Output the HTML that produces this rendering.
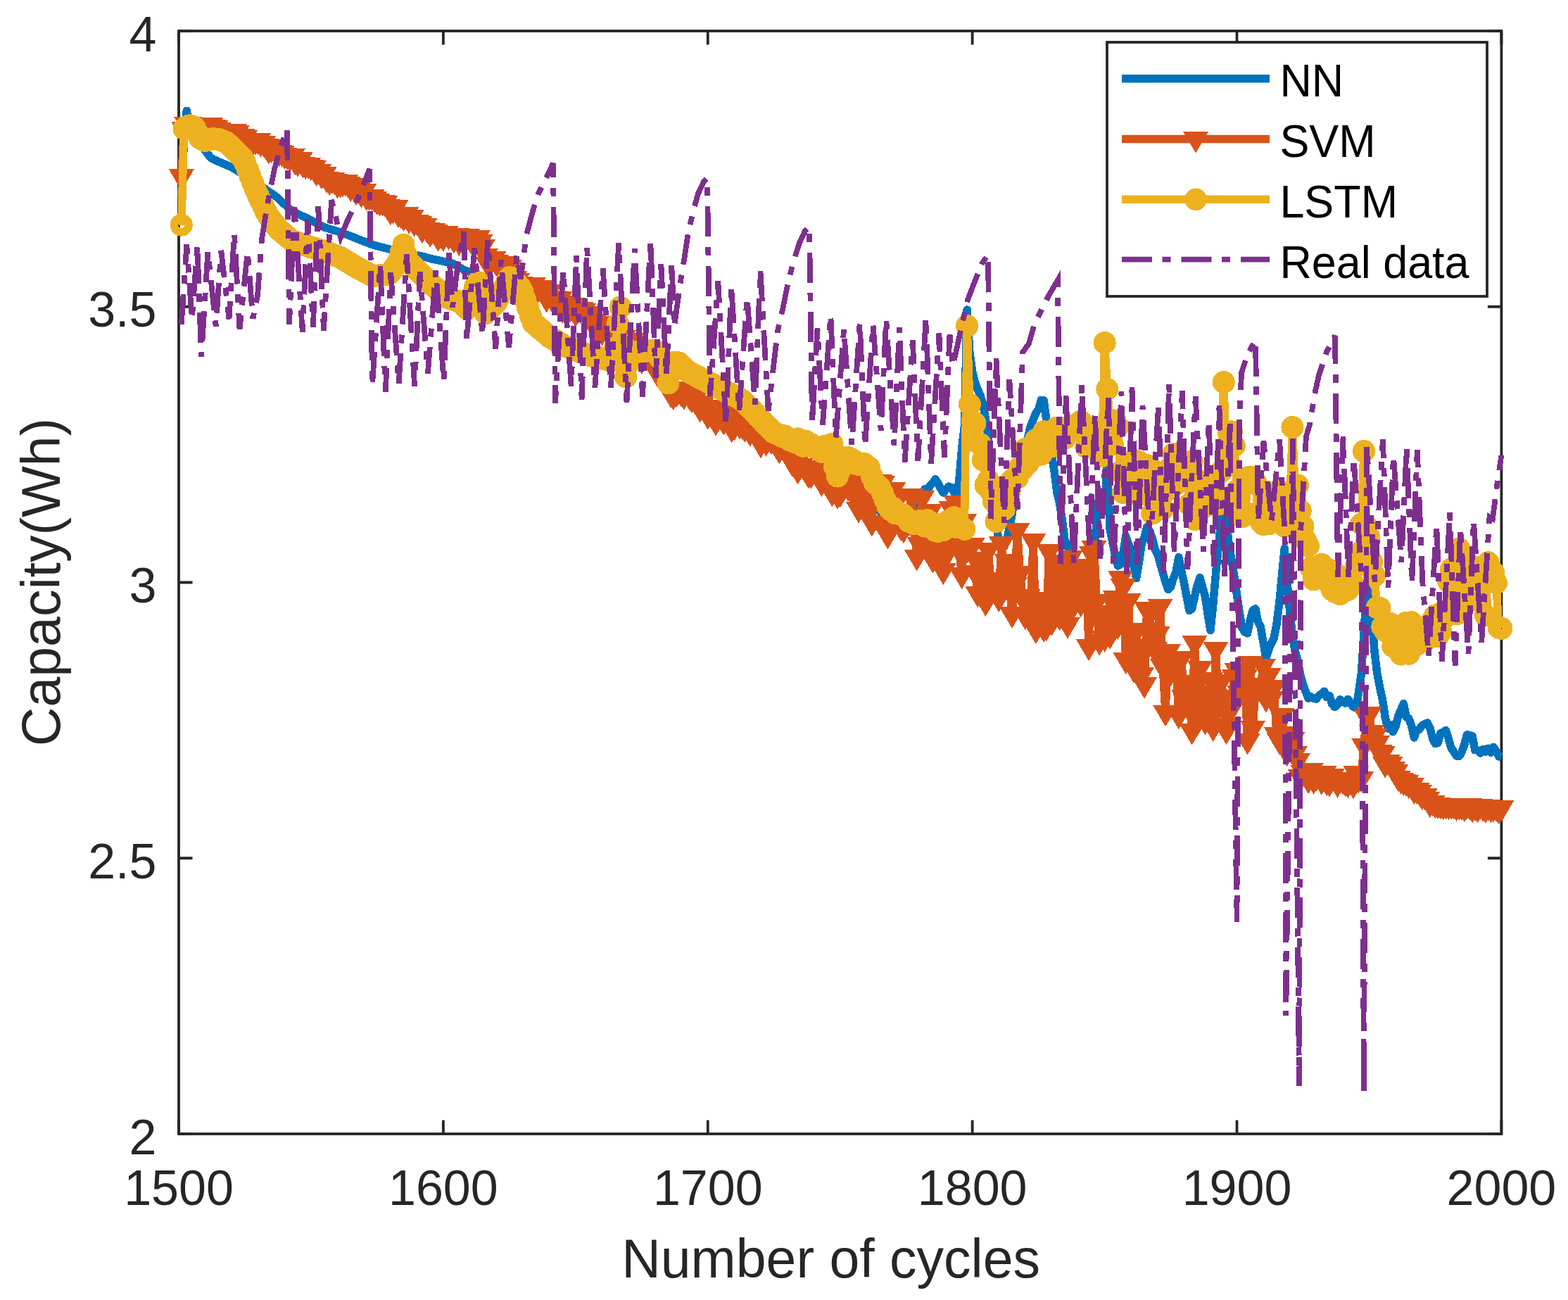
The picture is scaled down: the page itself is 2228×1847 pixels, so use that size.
<!DOCTYPE html>
<html><head><meta charset="utf-8"><style>
html,body{margin:0;padding:0;background:#fff;overflow:hidden}
svg{display:block}
text{font-family:"Liberation Sans",Arial,sans-serif;}
.t{font-size:70px;fill:#262626}
.l{font-size:77px;fill:#262626}
.g{font-size:64.5px;fill:#000}
</style></head><body>
<svg width="2228" height="1847" viewBox="0 0 2228 1847">
<rect x="0" y="0" width="2228" height="1847" fill="#fff"/>
<rect x="254.0" y="44.0" width="1879.40" height="1567.00" fill="none" stroke="#262626" stroke-width="3.8"/>
<path d="M254.00,1611.0V1591.5M254.00,44.0V63.5M629.88,1611.0V1591.5M629.88,44.0V63.5M1005.76,1611.0V1591.5M1005.76,44.0V63.5M1381.64,1611.0V1591.5M1381.64,44.0V63.5M1757.52,1611.0V1591.5M1757.52,44.0V63.5M2133.40,1611.0V1591.5M2133.40,44.0V63.5M254.0,1611.00H273.5M2133.4,1611.00H2113.9M254.0,1219.25H273.5M2133.4,1219.25H2113.9M254.0,827.50H273.5M2133.4,827.50H2113.9M254.0,435.75H273.5M2133.4,435.75H2113.9M254.0,44.00H273.5M2133.4,44.00H2113.9" stroke="#262626" stroke-width="3.8" fill="none"/>
<g shape-rendering="crispEdges"><path d="M257.8,280.0 L261.5,199.8 L265.3,157.3 L269.0,183.0 L272.8,188.2 L276.6,193.4 L280.3,198.6 L284.1,203.7 L287.8,208.8 L291.6,213.8 L295.3,218.8 L299.1,223.8 L302.9,226.2 L306.6,227.9 L310.4,229.5 L314.1,231.1 L317.9,232.8 L321.7,234.4 L325.4,236.0 L329.2,237.6 L332.9,239.9 L336.7,242.2 L340.5,244.6 L344.2,247.0 L348.0,249.4 L351.7,251.8 L355.5,254.1 L359.2,256.5 L363.0,259.1 L366.8,261.7 L370.5,264.2 L374.3,266.8 L378.0,269.4 L381.8,272.0 L385.6,274.6 L389.3,277.2 L393.1,280.0 L396.8,283.4 L400.6,286.8 L404.4,290.3 L408.1,293.7 L411.9,297.1 L415.6,300.3 L419.4,302.1 L423.1,303.9 L426.9,305.7 L430.7,307.5 L434.4,309.3 L438.2,311.1 L441.9,313.1 L445.7,315.0 L449.5,317.0 L453.2,318.9 L457.0,320.9 L460.7,322.9 L464.5,324.1 L468.3,325.2 L472.0,326.4 L475.8,327.5 L479.5,328.6 L483.3,329.8 L487.0,331.2 L490.8,332.7 L494.6,334.1 L498.3,335.6 L502.1,337.1 L505.8,338.5 L509.6,340.0 L513.4,341.5 L517.1,343.0 L520.9,344.4 L524.6,345.9 L528.4,347.4 L532.2,348.6 L535.9,349.5 L539.7,350.5 L543.4,351.5 L547.2,352.5 L550.9,353.4 L554.7,354.4 L558.5,355.3 L562.2,356.1 L566.0,356.9 L569.7,357.7 L573.5,358.5 L577.3,359.3 L581.0,360.1 L584.8,361.0 L588.5,361.8 L592.3,362.6 L596.1,363.4 L599.8,364.2 L603.6,365.2 L607.3,366.2 L611.1,367.2 L614.8,368.2 L618.6,369.0 L622.4,369.7 L626.1,370.5 L629.9,371.3 L633.6,372.1 L637.4,372.8 L641.2,373.6 L644.9,375.1 L648.7,377.3 L652.4,379.5 L656.2,381.8 L660.0,384.0 L663.7,385.1 L667.5,386.2 L671.2,387.4 L675.0,407.7 L678.7,400.9 L682.5,415.6 L686.3,430.4 L690.0,445.0 L693.8,441.2 L697.5,437.5 L701.3,433.7 L705.1,429.9 L708.8,422.8 L712.6,415.6 L716.3,408.5 L720.1,401.3 L723.9,394.2 L727.6,394.9 L731.4,399.2 L735.1,403.4 L738.9,407.6 L742.6,414.9 L746.4,426.2 L750.2,437.5 L753.9,448.8 L757.7,458.6 L761.4,461.9 L765.2,465.1 L769.0,468.4 L772.7,471.7 L776.5,474.9 L780.2,478.1 L784.0,480.4 L787.7,482.7 L791.5,485.0 L795.3,487.3 L799.0,489.6 L802.8,491.9 L806.5,493.3 L810.3,494.7 L814.1,496.1 L817.8,497.5 L821.6,498.9 L825.3,500.3 L829.1,501.7 L832.9,503.1 L836.6,504.5 L840.4,505.6 L844.1,506.4 L847.9,507.3 L851.6,508.2 L855.4,509.1 L859.2,510.0 L862.9,510.9 L866.7,511.7 L870.4,512.6 L874.2,494.1 L878.0,459.7 L881.7,436.5 L885.5,489.9 L889.2,535.5 L893.0,515.8 L896.8,500.0 L900.5,499.7 L904.3,499.5 L908.0,499.3 L911.8,499.1 L915.5,498.9 L919.3,498.6 L923.1,498.4 L926.8,498.2 L930.6,498.8 L934.3,504.0 L938.1,509.1 L941.9,514.3 L945.6,519.5 L949.4,544.5 L953.1,527.7 L956.9,515.0 L960.7,515.0 L964.4,515.4 L968.2,519.2 L971.9,522.9 L975.7,526.7 L979.4,528.8 L983.2,530.8 L987.0,532.8 L990.7,534.8 L994.5,536.8 L998.2,538.8 L1002.0,540.8 L1005.8,542.8 L1009.5,544.7 L1013.3,546.7 L1017.0,548.7 L1020.8,550.6 L1024.6,552.6 L1028.3,554.6 L1032.1,556.5 L1035.8,558.5 L1039.6,560.5 L1043.3,562.4 L1047.1,564.4 L1050.9,566.4 L1054.6,568.6 L1058.4,572.5 L1062.1,576.3 L1065.9,580.2 L1069.7,584.0 L1073.4,587.8 L1077.2,591.7 L1080.9,595.5 L1084.7,599.4 L1088.5,603.2 L1092.2,607.0 L1096.0,610.9 L1099.7,614.7 L1103.5,616.0 L1107.2,617.7 L1111.0,619.9 L1114.8,619.3 L1118.5,623.1 L1122.3,625.5 L1126.0,626.5 L1129.8,628.3 L1133.6,623.4 L1137.3,629.9 L1141.1,633.8 L1144.8,626.7 L1148.6,630.1 L1152.4,631.2 L1156.1,635.4 L1159.9,635.3 L1163.6,637.1 L1167.4,641.9 L1171.1,633.8 L1174.9,633.3 L1178.7,632.5 L1182.4,630.8 L1186.2,663.2 L1189.9,676.6 L1193.7,667.3 L1197.5,650.3 L1201.2,650.6 L1205.0,650.1 L1208.7,651.7 L1212.5,653.9 L1216.3,659.2 L1220.0,660.1 L1223.8,659.5 L1227.5,666.8 L1231.3,674.1 L1235.0,682.0 L1238.8,696.0 L1242.6,702.0 L1246.3,710.7 L1250.1,726.7 L1253.8,726.5 L1257.6,723.9 L1261.4,723.3 L1265.1,724.2 L1268.9,730.2 L1272.6,727.9 L1276.4,735.1 L1280.2,734.5 L1283.9,737.6 L1287.7,737.7 L1291.4,731.1 L1295.2,725.9 L1298.9,724.4 L1302.7,715.5 L1306.5,712.9 L1310.2,702.1 L1314.0,694.9 L1317.7,697.5 L1321.5,689.8 L1325.3,686.5 L1329.0,680.8 L1332.8,686.3 L1336.5,694.0 L1340.3,700.0 L1344.1,695.5 L1347.8,691.2 L1351.6,692.4 L1355.3,697.8 L1359.1,709.2 L1362.8,683.2 L1366.6,638.2 L1370.4,604.9 L1374.1,440.0 L1377.9,501.5 L1381.6,527.7 L1385.4,543.2 L1389.2,553.4 L1392.9,561.8 L1396.7,573.9 L1400.4,594.8 L1404.2,625.5 L1408.0,662.8 L1411.7,699.6 L1415.5,740.2 L1419.2,771.8 L1423.0,777.0 L1426.7,777.1 L1430.5,767.5 L1434.3,750.4 L1438.0,731.4 L1441.8,702.6 L1445.5,676.4 L1449.3,654.1 L1453.1,643.3 L1456.8,634.9 L1460.6,621.1 L1464.3,605.9 L1468.1,596.2 L1471.9,586.6 L1475.6,581.8 L1479.4,568.4 L1483.1,568.8 L1486.9,597.2 L1490.6,618.4 L1494.4,647.6 L1498.2,670.5 L1501.9,699.4 L1505.7,715.6 L1509.4,740.0 L1513.2,768.5 L1517.0,775.0 L1520.7,789.5 L1524.5,788.8 L1528.2,800.0 L1532.0,811.3 L1535.8,815.8 L1539.5,813.0 L1543.3,809.5 L1547.0,815.4 L1550.8,826.9 L1554.5,796.5 L1558.3,736.3 L1562.1,703.5 L1565.8,721.0 L1569.6,721.2 L1573.3,660.0 L1577.1,751.6 L1580.9,770.4 L1584.6,788.9 L1588.4,804.0 L1592.1,801.9 L1595.9,786.0 L1599.7,761.7 L1603.4,772.6 L1607.2,782.2 L1610.9,803.5 L1614.7,821.5 L1618.4,799.0 L1622.2,772.4 L1626.0,764.1 L1629.7,748.5 L1633.5,755.0 L1637.2,764.5 L1641.0,780.0 L1644.8,787.6 L1648.5,800.5 L1652.3,813.7 L1656.0,826.7 L1659.8,837.6 L1663.5,834.0 L1667.3,821.6 L1671.1,812.0 L1674.8,791.7 L1678.6,811.1 L1682.3,827.5 L1686.1,847.4 L1689.9,867.6 L1693.6,864.7 L1697.4,848.1 L1701.1,832.1 L1704.9,820.6 L1708.7,834.4 L1712.4,847.4 L1716.2,872.8 L1719.9,895.6 L1723.7,859.5 L1727.4,816.3 L1731.2,778.6 L1735.0,740.2 L1738.7,705.2 L1742.5,739.5 L1746.2,773.2 L1750.0,795.9 L1753.8,819.1 L1757.5,845.0 L1761.3,870.8 L1765.0,892.2 L1768.8,898.1 L1772.6,899.8 L1776.3,880.9 L1780.1,867.0 L1783.8,864.9 L1787.6,883.8 L1791.3,890.3 L1795.1,913.0 L1798.9,935.2 L1802.6,923.1 L1806.4,913.9 L1810.1,906.9 L1813.9,887.3 L1817.7,857.3 L1821.4,818.5 L1825.2,779.5 L1828.9,825.7 L1832.7,868.4 L1836.5,903.5 L1840.2,924.7 L1844.0,938.6 L1847.7,958.5 L1851.5,972.2 L1855.2,982.6 L1859.0,992.3 L1862.8,990.0 L1866.5,992.4 L1870.3,993.2 L1874.0,988.1 L1877.8,986.2 L1881.6,982.2 L1885.3,990.7 L1889.1,988.4 L1892.8,1000.6 L1896.6,1004.5 L1900.4,1001.4 L1904.1,993.9 L1907.9,996.7 L1911.6,999.0 L1915.4,993.4 L1919.1,999.0 L1922.9,1004.2 L1926.7,1005.8 L1930.4,984.8 L1934.2,958.4 L1937.9,904.0 L1941.7,835.9 L1945.5,841.9 L1949.2,876.1 L1953.0,925.3 L1956.7,955.9 L1960.5,976.2 L1964.3,993.1 L1968.0,1017.7 L1971.8,1034.9 L1975.5,1029.3 L1979.3,1039.8 L1983.0,1032.6 L1986.8,1017.0 L1990.6,1008.7 L1994.3,999.6 L1998.1,1018.8 L2001.8,1020.8 L2005.6,1031.3 L2009.4,1048.1 L2013.1,1037.7 L2016.9,1036.1 L2020.6,1030.7 L2024.4,1028.5 L2028.2,1027.1 L2031.9,1034.5 L2035.7,1049.2 L2039.4,1056.5 L2043.2,1055.4 L2046.9,1041.9 L2050.7,1040.0 L2054.5,1037.8 L2058.2,1049.4 L2062.0,1062.6 L2065.7,1068.1 L2069.5,1074.1 L2073.3,1074.7 L2077.0,1068.7 L2080.8,1057.7 L2084.5,1043.9 L2088.3,1044.6 L2092.1,1045.8 L2095.8,1065.7 L2099.6,1065.8 L2103.3,1070.0 L2107.1,1064.6 L2110.8,1068.2 L2114.6,1063.2 L2118.4,1069.3 L2122.1,1061.5 L2125.9,1067.3 L2129.6,1074.8 L2133.4,1075.9" fill="none" stroke="#0072BD" stroke-width="11.5" stroke-linejoin="round"/>
<path d="M257.8,250.4 L261.5,183.6 L265.3,176.3 L269.0,176.4 L272.8,182.4 L276.6,181.4 L280.3,180.8 L284.1,177.7 L287.8,180.0 L291.6,179.9 L295.3,180.2 L299.1,177.5 L302.9,180.6 L306.6,181.1 L310.4,184.6 L314.1,187.7 L317.9,188.5 L321.7,186.6 L325.4,187.2 L329.2,187.2 L332.9,186.7 L336.7,188.1 L340.5,193.3 L344.2,193.5 L348.0,195.5 L351.7,201.4 L355.5,199.7 L359.2,201.5 L363.0,200.1 L366.8,199.5 L370.5,203.3 L374.3,202.9 L378.0,207.4 L381.8,213.0 L385.6,211.4 L389.3,208.4 L393.1,216.0 L396.8,216.5 L400.6,217.2 L404.4,220.3 L408.1,221.1 L411.9,223.4 L415.6,221.5 L419.4,229.1 L423.1,231.0 L426.9,225.8 L430.7,233.2 L434.4,234.8 L438.2,234.4 L441.9,237.0 L445.7,238.6 L449.5,244.6 L453.2,242.9 L457.0,248.6 L460.7,247.0 L464.5,254.6 L468.3,257.4 L472.0,255.3 L475.8,257.4 L479.5,261.8 L483.3,261.1 L487.0,260.1 L490.8,258.7 L494.6,261.1 L498.3,266.4 L502.1,263.1 L505.8,271.8 L509.6,267.5 L513.4,275.4 L517.1,271.4 L520.9,279.4 L524.6,279.0 L528.4,279.4 L532.2,281.9 L535.9,285.6 L539.7,287.3 L543.4,287.0 L547.2,288.4 L550.9,293.6 L554.7,299.5 L558.5,298.2 L562.2,294.7 L566.0,303.8 L569.7,304.6 L573.5,308.7 L577.3,304.2 L581.0,312.2 L584.8,308.0 L588.5,316.4 L592.3,315.2 L596.1,317.3 L599.8,325.7 L603.6,320.0 L607.3,326.1 L611.1,331.4 L614.8,327.2 L618.6,328.9 L622.4,337.1 L626.1,333.3 L629.9,337.1 L633.6,331.1 L637.4,335.2 L641.2,334.1 L644.9,339.8 L648.7,334.4 L652.4,343.6 L656.2,334.8 L660.0,342.3 L663.7,335.4 L667.5,337.9 L671.2,343.6 L675.0,337.1 L678.7,337.4 L682.5,343.0 L686.3,349.9 L690.0,362.8 L693.8,375.3 L697.5,367.1 L701.3,367.3 L705.1,372.6 L708.8,377.5 L712.6,380.7 L716.3,374.4 L720.1,379.7 L723.9,379.0 L727.6,387.7 L731.4,395.1 L735.1,398.1 L738.9,403.6 L742.6,404.3 L746.4,407.8 L750.2,407.6 L753.9,406.2 L757.7,404.6 L761.4,412.8 L765.2,409.7 L769.0,408.5 L772.7,415.5 L776.5,423.8 L780.2,414.5 L784.0,423.8 L787.7,423.2 L791.5,427.5 L795.3,424.0 L799.0,439.3 L802.8,430.4 L806.5,438.4 L810.3,437.7 L814.1,433.4 L817.8,444.4 L821.6,439.2 L825.3,439.6 L829.1,441.0 L832.9,445.1 L836.6,445.7 L840.4,457.1 L844.1,456.7 L847.9,467.1 L851.6,468.2 L855.4,471.2 L859.2,459.2 L862.9,465.5 L866.7,464.8 L870.4,474.2 L874.2,477.8 L878.0,484.1 L881.7,485.4 L885.5,479.7 L889.2,485.9 L893.0,490.9 L896.8,483.6 L900.5,487.1 L904.3,497.6 L908.0,495.1 L911.8,511.4 L915.5,505.2 L919.3,506.0 L923.1,511.4 L926.8,516.2 L930.6,519.6 L934.3,530.2 L938.1,533.0 L941.9,533.8 L945.6,545.1 L949.4,539.7 L953.1,559.1 L956.9,562.4 L960.7,559.3 L964.4,554.7 L968.2,558.5 L971.9,562.1 L975.7,551.9 L979.4,562.4 L983.2,566.9 L987.0,560.9 L990.7,560.9 L994.5,580.0 L998.2,571.9 L1002.0,578.0 L1005.8,590.2 L1009.5,584.9 L1013.3,579.3 L1017.0,599.2 L1020.8,586.0 L1024.6,578.9 L1028.3,598.2 L1032.1,584.8 L1035.8,592.1 L1039.6,608.6 L1043.3,606.1 L1047.1,589.9 L1050.9,604.0 L1054.6,604.7 L1058.4,608.3 L1062.1,601.7 L1065.9,614.3 L1069.7,600.5 L1073.4,608.2 L1077.2,612.2 L1080.9,630.8 L1084.7,606.0 L1088.5,628.4 L1092.2,612.3 L1096.0,625.7 L1099.7,621.4 L1103.5,626.6 L1107.2,639.1 L1111.0,630.4 L1114.8,624.3 L1118.5,627.2 L1122.3,628.7 L1126.0,657.8 L1129.8,653.7 L1133.6,667.8 L1137.3,661.6 L1141.1,641.1 L1144.8,666.5 L1148.6,673.8 L1152.4,674.3 L1156.1,668.0 L1159.9,664.6 L1163.6,670.2 L1167.4,685.3 L1171.1,666.5 L1174.9,678.5 L1178.7,678.4 L1182.4,699.9 L1186.2,695.8 L1189.9,703.3 L1193.7,701.3 L1197.5,679.9 L1201.2,678.6 L1205.0,692.0 L1208.7,682.6 L1212.5,692.6 L1216.3,707.6 L1220.0,723.1 L1223.8,706.8 L1227.5,722.7 L1231.3,680.8 L1235.0,698.4 L1238.8,742.1 L1242.6,687.3 L1246.3,707.3 L1250.1,683.8 L1253.8,686.6 L1257.6,749.7 L1261.4,760.1 L1265.1,736.0 L1268.9,695.7 L1272.6,711.3 L1276.4,707.6 L1280.2,748.3 L1283.9,751.8 L1287.7,731.9 L1291.4,742.1 L1295.2,704.4 L1298.9,748.4 L1302.7,791.0 L1306.5,772.8 L1310.2,706.9 L1314.0,750.9 L1317.7,772.6 L1321.5,726.1 L1325.3,794.1 L1329.0,749.6 L1332.8,776.5 L1336.5,745.7 L1340.3,810.6 L1344.1,789.0 L1347.8,767.4 L1351.6,722.1 L1355.3,757.7 L1359.1,714.6 L1362.8,781.0 L1366.6,816.6 L1370.4,739.8 L1374.1,780.5 L1377.9,780.3 L1381.6,774.3 L1385.4,813.0 L1389.2,842.8 L1392.9,818.7 L1396.7,794.1 L1400.4,855.6 L1404.2,780.8 L1408.0,832.2 L1411.7,822.9 L1415.5,836.8 L1419.2,849.4 L1423.0,772.6 L1426.7,823.2 L1430.5,796.9 L1434.3,831.4 L1438.0,872.3 L1441.8,830.6 L1445.5,753.1 L1449.3,814.3 L1453.1,849.3 L1456.8,874.8 L1460.6,847.1 L1464.3,872.0 L1468.1,768.4 L1471.9,894.6 L1475.6,866.8 L1479.4,851.0 L1483.1,892.5 L1486.9,890.7 L1490.6,783.5 L1494.4,883.1 L1498.2,877.2 L1501.9,798.6 L1505.7,875.8 L1509.4,854.3 L1513.2,798.9 L1517.0,887.0 L1520.7,792.1 L1524.5,861.1 L1528.2,836.1 L1532.0,810.3 L1535.8,856.7 L1539.5,842.8 L1543.3,804.6 L1547.0,918.6 L1550.8,785.8 L1554.5,778.1 L1558.3,854.4 L1562.1,911.1 L1565.8,888.2 L1569.6,906.5 L1573.3,870.0 L1577.1,902.4 L1580.9,855.3 L1584.6,849.0 L1588.4,888.3 L1592.1,820.9 L1595.9,832.7 L1599.7,937.7 L1603.4,853.4 L1607.2,942.4 L1610.9,950.1 L1614.7,895.7 L1618.4,938.8 L1622.2,958.3 L1626.0,972.3 L1629.7,865.5 L1633.5,872.2 L1637.2,907.6 L1641.0,922.7 L1644.8,900.0 L1648.5,861.0 L1652.3,946.7 L1656.0,1011.8 L1659.8,925.4 L1663.5,954.8 L1667.3,935.2 L1671.1,947.9 L1674.8,1015.7 L1678.6,935.1 L1682.3,989.9 L1686.1,968.8 L1689.9,980.6 L1693.6,1038.0 L1697.4,913.1 L1701.1,1026.1 L1704.9,948.9 L1708.7,1001.0 L1712.4,1024.2 L1716.2,1003.7 L1719.9,965.5 L1723.7,1033.4 L1727.4,922.1 L1731.2,1004.0 L1735.0,968.4 L1738.7,990.1 L1742.5,1037.7 L1746.2,1030.1 L1750.0,1006.1 L1753.8,961.4 L1757.5,952.0 L1761.3,984.0 L1765.0,954.4 L1768.8,961.7 L1772.6,1052.1 L1776.3,942.6 L1780.1,1034.1 L1783.8,979.0 L1787.6,978.2 L1791.3,973.6 L1795.1,945.8 L1798.9,992.1 L1802.6,959.2 L1806.4,991.9 L1810.1,976.0 L1813.9,1043.4 L1817.7,1051.7 L1821.4,1016.2 L1825.2,1042.1 L1828.9,1068.7 L1832.7,1045.0 L1836.5,1050.2 L1840.2,1069.8 L1844.0,1080.2 L1847.7,1103.5 L1851.5,1097.1 L1855.2,1096.9 L1859.0,1107.6 L1862.8,1094.3 L1866.5,1108.3 L1870.3,1104.2 L1874.0,1098.8 L1877.8,1109.2 L1881.6,1097.8 L1885.3,1110.8 L1889.1,1112.1 L1892.8,1102.1 L1896.6,1106.8 L1900.4,1113.2 L1904.1,1108.4 L1907.9,1108.8 L1911.6,1111.8 L1915.4,1113.6 L1919.1,1109.4 L1922.9,1115.0 L1926.7,1098.7 L1930.4,1106.8 L1934.2,1106.1 L1937.9,1058.9 L1941.7,1018.1 L1945.5,1014.1 L1949.2,1040.6 L1953.0,1045.6 L1956.7,1055.6 L1960.5,1068.3 L1964.3,1070.7 L1968.0,1085.2 L1971.8,1081.9 L1975.5,1085.2 L1979.3,1092.1 L1983.0,1096.3 L1986.8,1104.9 L1990.6,1108.5 L1994.3,1110.5 L1998.1,1111.0 L2001.8,1114.8 L2005.6,1115.6 L2009.4,1122.8 L2013.1,1122.7 L2016.9,1125.1 L2020.6,1130.6 L2024.4,1130.6 L2028.2,1134.8 L2031.9,1141.7 L2035.7,1139.8 L2039.4,1142.9 L2043.2,1143.4 L2046.9,1143.8 L2050.7,1144.9 L2054.5,1144.0 L2058.2,1144.7 L2062.0,1144.2 L2065.7,1144.3 L2069.5,1146.6 L2073.3,1145.1 L2077.0,1145.4 L2080.8,1147.9 L2084.5,1143.8 L2088.3,1144.4 L2092.1,1148.8 L2095.8,1146.4 L2099.6,1148.6 L2103.3,1144.8 L2107.1,1147.3 L2110.8,1149.3 L2114.6,1146.4 L2118.4,1149.1 L2122.1,1148.3 L2125.9,1147.1 L2129.6,1150.8 L2133.4,1147.3" fill="none" stroke="#D95319" stroke-width="11.5" stroke-linejoin="round"/>
<path d="M239.7,240.1h36.2l-18.1,30.8zM243.4,173.3h36.2l-18.1,30.8zM247.2,166.0h36.2l-18.1,30.8zM250.9,166.1h36.2l-18.1,30.8zM254.7,172.1h36.2l-18.1,30.8zM258.5,171.1h36.2l-18.1,30.8zM262.2,170.5h36.2l-18.1,30.8zM266.0,167.4h36.2l-18.1,30.8zM269.7,169.7h36.2l-18.1,30.8zM273.5,169.6h36.2l-18.1,30.8zM277.2,169.9h36.2l-18.1,30.8zM281.0,167.2h36.2l-18.1,30.8zM284.8,170.3h36.2l-18.1,30.8zM288.5,170.8h36.2l-18.1,30.8zM292.3,174.3h36.2l-18.1,30.8zM296.0,177.4h36.2l-18.1,30.8zM299.8,178.2h36.2l-18.1,30.8zM303.6,176.3h36.2l-18.1,30.8zM307.3,176.9h36.2l-18.1,30.8zM311.1,176.9h36.2l-18.1,30.8zM314.8,176.4h36.2l-18.1,30.8zM318.6,177.8h36.2l-18.1,30.8zM322.4,183.0h36.2l-18.1,30.8zM326.1,183.2h36.2l-18.1,30.8zM329.9,185.2h36.2l-18.1,30.8zM333.6,191.1h36.2l-18.1,30.8zM337.4,189.4h36.2l-18.1,30.8zM341.1,191.2h36.2l-18.1,30.8zM344.9,189.8h36.2l-18.1,30.8zM348.7,189.2h36.2l-18.1,30.8zM352.4,193.0h36.2l-18.1,30.8zM356.2,192.6h36.2l-18.1,30.8zM359.9,197.1h36.2l-18.1,30.8zM363.7,202.7h36.2l-18.1,30.8zM367.5,201.1h36.2l-18.1,30.8zM371.2,198.1h36.2l-18.1,30.8zM375.0,205.7h36.2l-18.1,30.8zM378.7,206.2h36.2l-18.1,30.8zM382.5,206.9h36.2l-18.1,30.8zM386.3,210.0h36.2l-18.1,30.8zM390.0,210.8h36.2l-18.1,30.8zM393.8,213.1h36.2l-18.1,30.8zM397.5,211.2h36.2l-18.1,30.8zM401.3,218.8h36.2l-18.1,30.8zM405.0,220.7h36.2l-18.1,30.8zM408.8,215.5h36.2l-18.1,30.8zM412.6,222.9h36.2l-18.1,30.8zM416.3,224.5h36.2l-18.1,30.8zM420.1,224.1h36.2l-18.1,30.8zM423.8,226.7h36.2l-18.1,30.8zM427.6,228.3h36.2l-18.1,30.8zM431.4,234.3h36.2l-18.1,30.8zM435.1,232.6h36.2l-18.1,30.8zM438.9,238.3h36.2l-18.1,30.8zM442.6,236.7h36.2l-18.1,30.8zM446.4,244.3h36.2l-18.1,30.8zM450.2,247.1h36.2l-18.1,30.8zM453.9,245.0h36.2l-18.1,30.8zM457.7,247.1h36.2l-18.1,30.8zM461.4,251.5h36.2l-18.1,30.8zM465.2,250.8h36.2l-18.1,30.8zM468.9,249.8h36.2l-18.1,30.8zM472.7,248.4h36.2l-18.1,30.8zM476.5,250.8h36.2l-18.1,30.8zM480.2,256.1h36.2l-18.1,30.8zM484.0,252.8h36.2l-18.1,30.8zM487.7,261.5h36.2l-18.1,30.8zM491.5,257.2h36.2l-18.1,30.8zM495.3,265.1h36.2l-18.1,30.8zM499.0,261.1h36.2l-18.1,30.8zM502.8,269.1h36.2l-18.1,30.8zM506.5,268.7h36.2l-18.1,30.8zM510.3,269.1h36.2l-18.1,30.8zM514.1,271.6h36.2l-18.1,30.8zM517.8,275.3h36.2l-18.1,30.8zM521.6,277.0h36.2l-18.1,30.8zM525.3,276.7h36.2l-18.1,30.8zM529.1,278.1h36.2l-18.1,30.8zM532.8,283.3h36.2l-18.1,30.8zM536.6,289.2h36.2l-18.1,30.8zM540.4,287.9h36.2l-18.1,30.8zM544.1,284.4h36.2l-18.1,30.8zM547.9,293.5h36.2l-18.1,30.8zM551.6,294.3h36.2l-18.1,30.8zM555.4,298.4h36.2l-18.1,30.8zM559.2,293.9h36.2l-18.1,30.8zM562.9,301.9h36.2l-18.1,30.8zM566.7,297.7h36.2l-18.1,30.8zM570.4,306.1h36.2l-18.1,30.8zM574.2,304.9h36.2l-18.1,30.8zM578.0,307.0h36.2l-18.1,30.8zM581.7,315.4h36.2l-18.1,30.8zM585.5,309.7h36.2l-18.1,30.8zM589.2,315.8h36.2l-18.1,30.8zM593.0,321.1h36.2l-18.1,30.8zM596.7,316.9h36.2l-18.1,30.8zM600.5,318.6h36.2l-18.1,30.8zM604.3,326.8h36.2l-18.1,30.8zM608.0,323.0h36.2l-18.1,30.8zM611.8,326.8h36.2l-18.1,30.8zM615.5,320.8h36.2l-18.1,30.8zM619.3,324.9h36.2l-18.1,30.8zM623.1,323.8h36.2l-18.1,30.8zM626.8,329.5h36.2l-18.1,30.8zM630.6,324.1h36.2l-18.1,30.8zM634.3,333.3h36.2l-18.1,30.8zM638.1,324.5h36.2l-18.1,30.8zM641.9,332.0h36.2l-18.1,30.8zM645.6,325.1h36.2l-18.1,30.8zM649.4,327.6h36.2l-18.1,30.8zM653.1,333.3h36.2l-18.1,30.8zM656.9,326.8h36.2l-18.1,30.8zM660.6,327.1h36.2l-18.1,30.8zM664.4,332.7h36.2l-18.1,30.8zM668.2,339.6h36.2l-18.1,30.8zM671.9,352.5h36.2l-18.1,30.8zM675.7,365.0h36.2l-18.1,30.8zM679.4,356.8h36.2l-18.1,30.8zM683.2,357.0h36.2l-18.1,30.8zM687.0,362.3h36.2l-18.1,30.8zM690.7,367.2h36.2l-18.1,30.8zM694.5,370.4h36.2l-18.1,30.8zM698.2,364.1h36.2l-18.1,30.8zM702.0,369.4h36.2l-18.1,30.8zM705.8,368.7h36.2l-18.1,30.8zM709.5,377.4h36.2l-18.1,30.8zM713.3,384.8h36.2l-18.1,30.8zM717.0,387.8h36.2l-18.1,30.8zM720.8,393.3h36.2l-18.1,30.8zM724.5,394.0h36.2l-18.1,30.8zM728.3,397.5h36.2l-18.1,30.8zM732.1,397.3h36.2l-18.1,30.8zM735.8,395.9h36.2l-18.1,30.8zM739.6,394.3h36.2l-18.1,30.8zM743.3,402.5h36.2l-18.1,30.8zM747.1,399.4h36.2l-18.1,30.8zM750.9,398.2h36.2l-18.1,30.8zM754.6,405.2h36.2l-18.1,30.8zM758.4,413.5h36.2l-18.1,30.8zM762.1,404.2h36.2l-18.1,30.8zM765.9,413.5h36.2l-18.1,30.8zM769.6,412.9h36.2l-18.1,30.8zM773.4,417.2h36.2l-18.1,30.8zM777.2,413.7h36.2l-18.1,30.8zM780.9,429.0h36.2l-18.1,30.8zM784.7,420.1h36.2l-18.1,30.8zM788.4,428.1h36.2l-18.1,30.8zM792.2,427.4h36.2l-18.1,30.8zM796.0,423.1h36.2l-18.1,30.8zM799.7,434.1h36.2l-18.1,30.8zM803.5,428.9h36.2l-18.1,30.8zM807.2,429.3h36.2l-18.1,30.8zM811.0,430.7h36.2l-18.1,30.8zM814.8,434.8h36.2l-18.1,30.8zM818.5,435.4h36.2l-18.1,30.8zM822.3,446.8h36.2l-18.1,30.8zM826.0,446.4h36.2l-18.1,30.8zM829.8,456.8h36.2l-18.1,30.8zM833.5,457.9h36.2l-18.1,30.8zM837.3,460.9h36.2l-18.1,30.8zM841.1,448.9h36.2l-18.1,30.8zM844.8,455.2h36.2l-18.1,30.8zM848.6,454.5h36.2l-18.1,30.8zM852.3,463.9h36.2l-18.1,30.8zM856.1,467.5h36.2l-18.1,30.8zM859.9,473.8h36.2l-18.1,30.8zM863.6,475.1h36.2l-18.1,30.8zM867.4,469.4h36.2l-18.1,30.8zM871.1,475.6h36.2l-18.1,30.8zM874.9,480.6h36.2l-18.1,30.8zM878.7,473.3h36.2l-18.1,30.8zM882.4,476.8h36.2l-18.1,30.8zM886.2,487.3h36.2l-18.1,30.8zM889.9,484.8h36.2l-18.1,30.8zM893.7,501.1h36.2l-18.1,30.8zM897.4,494.9h36.2l-18.1,30.8zM901.2,495.7h36.2l-18.1,30.8zM905.0,501.1h36.2l-18.1,30.8zM908.7,505.9h36.2l-18.1,30.8zM912.5,509.3h36.2l-18.1,30.8zM916.2,519.9h36.2l-18.1,30.8zM920.0,522.7h36.2l-18.1,30.8zM923.8,523.5h36.2l-18.1,30.8zM927.5,534.8h36.2l-18.1,30.8zM931.3,529.4h36.2l-18.1,30.8zM935.0,548.8h36.2l-18.1,30.8zM938.8,552.1h36.2l-18.1,30.8zM942.6,549.0h36.2l-18.1,30.8zM946.3,544.4h36.2l-18.1,30.8zM950.1,548.2h36.2l-18.1,30.8zM953.8,551.8h36.2l-18.1,30.8zM957.6,541.6h36.2l-18.1,30.8zM961.3,552.1h36.2l-18.1,30.8zM965.1,556.6h36.2l-18.1,30.8zM968.9,550.6h36.2l-18.1,30.8zM972.6,550.6h36.2l-18.1,30.8zM976.4,569.7h36.2l-18.1,30.8zM980.1,561.6h36.2l-18.1,30.8zM983.9,567.7h36.2l-18.1,30.8zM987.7,579.9h36.2l-18.1,30.8zM991.4,574.6h36.2l-18.1,30.8zM995.2,569.0h36.2l-18.1,30.8zM998.9,588.9h36.2l-18.1,30.8zM1002.7,575.7h36.2l-18.1,30.8zM1006.5,568.6h36.2l-18.1,30.8zM1010.2,587.9h36.2l-18.1,30.8zM1014.0,574.5h36.2l-18.1,30.8zM1017.7,581.8h36.2l-18.1,30.8zM1021.5,598.3h36.2l-18.1,30.8zM1025.2,595.8h36.2l-18.1,30.8zM1029.0,579.6h36.2l-18.1,30.8zM1032.8,593.7h36.2l-18.1,30.8zM1036.5,594.4h36.2l-18.1,30.8zM1040.3,598.0h36.2l-18.1,30.8zM1044.0,591.4h36.2l-18.1,30.8zM1047.8,604.0h36.2l-18.1,30.8zM1051.6,590.2h36.2l-18.1,30.8zM1055.3,597.9h36.2l-18.1,30.8zM1059.1,601.9h36.2l-18.1,30.8zM1062.8,620.5h36.2l-18.1,30.8zM1066.6,595.7h36.2l-18.1,30.8zM1070.4,618.1h36.2l-18.1,30.8zM1074.1,602.0h36.2l-18.1,30.8zM1077.9,615.4h36.2l-18.1,30.8zM1081.6,611.1h36.2l-18.1,30.8zM1085.4,616.3h36.2l-18.1,30.8zM1089.1,628.8h36.2l-18.1,30.8zM1092.9,620.1h36.2l-18.1,30.8zM1096.7,614.0h36.2l-18.1,30.8zM1100.4,616.9h36.2l-18.1,30.8zM1104.2,618.4h36.2l-18.1,30.8zM1107.9,647.5h36.2l-18.1,30.8zM1111.7,643.4h36.2l-18.1,30.8zM1115.5,657.5h36.2l-18.1,30.8zM1119.2,651.3h36.2l-18.1,30.8zM1123.0,630.8h36.2l-18.1,30.8zM1126.7,656.2h36.2l-18.1,30.8zM1130.5,663.5h36.2l-18.1,30.8zM1134.3,664.0h36.2l-18.1,30.8zM1138.0,657.7h36.2l-18.1,30.8zM1141.8,654.3h36.2l-18.1,30.8zM1145.5,659.9h36.2l-18.1,30.8zM1149.3,675.0h36.2l-18.1,30.8zM1153.0,656.2h36.2l-18.1,30.8zM1156.8,668.2h36.2l-18.1,30.8zM1160.6,668.1h36.2l-18.1,30.8zM1164.3,689.6h36.2l-18.1,30.8zM1168.1,685.5h36.2l-18.1,30.8zM1171.8,693.0h36.2l-18.1,30.8zM1175.6,691.0h36.2l-18.1,30.8zM1179.4,669.6h36.2l-18.1,30.8zM1183.1,668.3h36.2l-18.1,30.8zM1186.9,681.7h36.2l-18.1,30.8zM1190.6,672.3h36.2l-18.1,30.8zM1194.4,682.3h36.2l-18.1,30.8zM1198.2,697.3h36.2l-18.1,30.8zM1201.9,712.8h36.2l-18.1,30.8zM1205.7,696.5h36.2l-18.1,30.8zM1209.4,712.4h36.2l-18.1,30.8zM1213.2,670.5h36.2l-18.1,30.8zM1216.9,688.1h36.2l-18.1,30.8zM1220.7,731.8h36.2l-18.1,30.8zM1224.5,677.0h36.2l-18.1,30.8zM1228.2,697.0h36.2l-18.1,30.8zM1232.0,673.5h36.2l-18.1,30.8zM1235.7,676.3h36.2l-18.1,30.8zM1239.5,739.4h36.2l-18.1,30.8zM1243.3,749.8h36.2l-18.1,30.8zM1247.0,725.7h36.2l-18.1,30.8zM1250.8,685.4h36.2l-18.1,30.8zM1254.5,701.0h36.2l-18.1,30.8zM1258.3,697.3h36.2l-18.1,30.8zM1262.1,738.0h36.2l-18.1,30.8zM1265.8,741.5h36.2l-18.1,30.8zM1269.6,721.6h36.2l-18.1,30.8zM1273.3,731.8h36.2l-18.1,30.8zM1277.1,694.1h36.2l-18.1,30.8zM1280.8,738.1h36.2l-18.1,30.8zM1284.6,780.7h36.2l-18.1,30.8zM1288.4,762.5h36.2l-18.1,30.8zM1292.1,696.6h36.2l-18.1,30.8zM1295.9,740.6h36.2l-18.1,30.8zM1299.6,762.3h36.2l-18.1,30.8zM1303.4,715.8h36.2l-18.1,30.8zM1307.2,783.8h36.2l-18.1,30.8zM1310.9,739.3h36.2l-18.1,30.8zM1314.7,766.2h36.2l-18.1,30.8zM1318.4,735.4h36.2l-18.1,30.8zM1322.2,800.3h36.2l-18.1,30.8zM1326.0,778.7h36.2l-18.1,30.8zM1329.7,757.1h36.2l-18.1,30.8zM1333.5,711.8h36.2l-18.1,30.8zM1337.2,747.4h36.2l-18.1,30.8zM1341.0,704.3h36.2l-18.1,30.8zM1344.7,770.7h36.2l-18.1,30.8zM1348.5,806.3h36.2l-18.1,30.8zM1352.3,729.5h36.2l-18.1,30.8zM1356.0,770.2h36.2l-18.1,30.8zM1359.8,770.0h36.2l-18.1,30.8zM1363.5,764.0h36.2l-18.1,30.8zM1367.3,802.7h36.2l-18.1,30.8zM1371.1,832.5h36.2l-18.1,30.8zM1374.8,808.4h36.2l-18.1,30.8zM1378.6,783.8h36.2l-18.1,30.8zM1382.3,845.3h36.2l-18.1,30.8zM1386.1,770.5h36.2l-18.1,30.8zM1389.9,821.9h36.2l-18.1,30.8zM1393.6,812.6h36.2l-18.1,30.8zM1397.4,826.5h36.2l-18.1,30.8zM1401.1,839.1h36.2l-18.1,30.8zM1404.9,762.3h36.2l-18.1,30.8zM1408.6,812.9h36.2l-18.1,30.8zM1412.4,786.6h36.2l-18.1,30.8zM1416.2,821.1h36.2l-18.1,30.8zM1419.9,862.0h36.2l-18.1,30.8zM1423.7,820.3h36.2l-18.1,30.8zM1427.4,742.8h36.2l-18.1,30.8zM1431.2,804.0h36.2l-18.1,30.8zM1435.0,839.0h36.2l-18.1,30.8zM1438.7,864.5h36.2l-18.1,30.8zM1442.5,836.8h36.2l-18.1,30.8zM1446.2,861.7h36.2l-18.1,30.8zM1450.0,758.1h36.2l-18.1,30.8zM1453.8,884.3h36.2l-18.1,30.8zM1457.5,856.5h36.2l-18.1,30.8zM1461.3,840.7h36.2l-18.1,30.8zM1465.0,882.2h36.2l-18.1,30.8zM1468.8,880.4h36.2l-18.1,30.8zM1472.5,773.2h36.2l-18.1,30.8zM1476.3,872.8h36.2l-18.1,30.8zM1480.1,866.9h36.2l-18.1,30.8zM1483.8,788.3h36.2l-18.1,30.8zM1487.6,865.5h36.2l-18.1,30.8zM1491.3,844.0h36.2l-18.1,30.8zM1495.1,788.6h36.2l-18.1,30.8zM1498.9,876.7h36.2l-18.1,30.8zM1502.6,781.8h36.2l-18.1,30.8zM1506.4,850.8h36.2l-18.1,30.8zM1510.1,825.8h36.2l-18.1,30.8zM1513.9,800.0h36.2l-18.1,30.8zM1517.7,846.4h36.2l-18.1,30.8zM1521.4,832.5h36.2l-18.1,30.8zM1525.2,794.3h36.2l-18.1,30.8zM1528.9,908.3h36.2l-18.1,30.8zM1532.7,775.5h36.2l-18.1,30.8zM1536.4,767.8h36.2l-18.1,30.8zM1540.2,844.1h36.2l-18.1,30.8zM1544.0,900.8h36.2l-18.1,30.8zM1547.7,877.9h36.2l-18.1,30.8zM1551.5,896.2h36.2l-18.1,30.8zM1555.2,859.7h36.2l-18.1,30.8zM1559.0,892.1h36.2l-18.1,30.8zM1562.8,845.0h36.2l-18.1,30.8zM1566.5,838.7h36.2l-18.1,30.8zM1570.3,878.0h36.2l-18.1,30.8zM1574.0,810.6h36.2l-18.1,30.8zM1577.8,822.4h36.2l-18.1,30.8zM1581.6,927.4h36.2l-18.1,30.8zM1585.3,843.1h36.2l-18.1,30.8zM1589.1,932.1h36.2l-18.1,30.8zM1592.8,939.8h36.2l-18.1,30.8zM1596.6,885.4h36.2l-18.1,30.8zM1600.3,928.5h36.2l-18.1,30.8zM1604.1,948.0h36.2l-18.1,30.8zM1607.9,962.0h36.2l-18.1,30.8zM1611.6,855.2h36.2l-18.1,30.8zM1615.4,861.9h36.2l-18.1,30.8zM1619.1,897.3h36.2l-18.1,30.8zM1622.9,912.4h36.2l-18.1,30.8zM1626.7,889.7h36.2l-18.1,30.8zM1630.4,850.7h36.2l-18.1,30.8zM1634.2,936.4h36.2l-18.1,30.8zM1637.9,1001.5h36.2l-18.1,30.8zM1641.7,915.1h36.2l-18.1,30.8zM1645.5,944.5h36.2l-18.1,30.8zM1649.2,924.9h36.2l-18.1,30.8zM1653.0,937.6h36.2l-18.1,30.8zM1656.7,1005.4h36.2l-18.1,30.8zM1660.5,924.8h36.2l-18.1,30.8zM1664.2,979.6h36.2l-18.1,30.8zM1668.0,958.5h36.2l-18.1,30.8zM1671.8,970.3h36.2l-18.1,30.8zM1675.5,1027.7h36.2l-18.1,30.8zM1679.3,902.8h36.2l-18.1,30.8zM1683.0,1015.8h36.2l-18.1,30.8zM1686.8,938.6h36.2l-18.1,30.8zM1690.6,990.7h36.2l-18.1,30.8zM1694.3,1013.9h36.2l-18.1,30.8zM1698.1,993.4h36.2l-18.1,30.8zM1701.8,955.2h36.2l-18.1,30.8zM1705.6,1023.1h36.2l-18.1,30.8zM1709.3,911.8h36.2l-18.1,30.8zM1713.1,993.7h36.2l-18.1,30.8zM1716.9,958.1h36.2l-18.1,30.8zM1720.6,979.8h36.2l-18.1,30.8zM1724.4,1027.4h36.2l-18.1,30.8zM1728.1,1019.8h36.2l-18.1,30.8zM1731.9,995.8h36.2l-18.1,30.8zM1735.7,951.1h36.2l-18.1,30.8zM1739.4,941.7h36.2l-18.1,30.8zM1743.2,973.7h36.2l-18.1,30.8zM1746.9,944.1h36.2l-18.1,30.8zM1750.7,951.4h36.2l-18.1,30.8zM1754.5,1041.8h36.2l-18.1,30.8zM1758.2,932.3h36.2l-18.1,30.8zM1762.0,1023.8h36.2l-18.1,30.8zM1765.7,968.7h36.2l-18.1,30.8zM1769.5,967.9h36.2l-18.1,30.8zM1773.2,963.3h36.2l-18.1,30.8zM1777.0,935.5h36.2l-18.1,30.8zM1780.8,981.8h36.2l-18.1,30.8zM1784.5,948.9h36.2l-18.1,30.8zM1788.3,981.6h36.2l-18.1,30.8zM1792.0,965.7h36.2l-18.1,30.8zM1795.8,1033.1h36.2l-18.1,30.8zM1799.6,1041.4h36.2l-18.1,30.8zM1803.3,1005.9h36.2l-18.1,30.8zM1807.1,1031.8h36.2l-18.1,30.8zM1810.8,1058.4h36.2l-18.1,30.8zM1814.6,1034.7h36.2l-18.1,30.8zM1818.4,1039.9h36.2l-18.1,30.8zM1822.1,1059.5h36.2l-18.1,30.8zM1825.9,1069.9h36.2l-18.1,30.8zM1829.6,1093.2h36.2l-18.1,30.8zM1833.4,1086.8h36.2l-18.1,30.8zM1837.1,1086.6h36.2l-18.1,30.8zM1840.9,1097.3h36.2l-18.1,30.8zM1844.7,1084.0h36.2l-18.1,30.8zM1848.4,1098.0h36.2l-18.1,30.8zM1852.2,1093.9h36.2l-18.1,30.8zM1855.9,1088.5h36.2l-18.1,30.8zM1859.7,1098.9h36.2l-18.1,30.8zM1863.5,1087.5h36.2l-18.1,30.8zM1867.2,1100.5h36.2l-18.1,30.8zM1871.0,1101.8h36.2l-18.1,30.8zM1874.7,1091.8h36.2l-18.1,30.8zM1878.5,1096.5h36.2l-18.1,30.8zM1882.3,1102.9h36.2l-18.1,30.8zM1886.0,1098.1h36.2l-18.1,30.8zM1889.8,1098.5h36.2l-18.1,30.8zM1893.5,1101.5h36.2l-18.1,30.8zM1897.3,1103.3h36.2l-18.1,30.8zM1901.0,1099.1h36.2l-18.1,30.8zM1904.8,1104.7h36.2l-18.1,30.8zM1908.6,1088.4h36.2l-18.1,30.8zM1912.3,1096.5h36.2l-18.1,30.8zM1916.1,1095.8h36.2l-18.1,30.8zM1919.8,1048.6h36.2l-18.1,30.8zM1923.6,1007.8h36.2l-18.1,30.8zM1927.4,1003.8h36.2l-18.1,30.8zM1931.1,1030.3h36.2l-18.1,30.8zM1934.9,1035.3h36.2l-18.1,30.8zM1938.6,1045.3h36.2l-18.1,30.8zM1942.4,1058.0h36.2l-18.1,30.8zM1946.2,1060.4h36.2l-18.1,30.8zM1949.9,1074.9h36.2l-18.1,30.8zM1953.7,1071.6h36.2l-18.1,30.8zM1957.4,1074.9h36.2l-18.1,30.8zM1961.2,1081.8h36.2l-18.1,30.8zM1964.9,1086.0h36.2l-18.1,30.8zM1968.7,1094.6h36.2l-18.1,30.8zM1972.5,1098.2h36.2l-18.1,30.8zM1976.2,1100.2h36.2l-18.1,30.8zM1980.0,1100.7h36.2l-18.1,30.8zM1983.7,1104.5h36.2l-18.1,30.8zM1987.5,1105.3h36.2l-18.1,30.8zM1991.3,1112.5h36.2l-18.1,30.8zM1995.0,1112.4h36.2l-18.1,30.8zM1998.8,1114.8h36.2l-18.1,30.8zM2002.5,1120.3h36.2l-18.1,30.8zM2006.3,1120.3h36.2l-18.1,30.8zM2010.1,1124.5h36.2l-18.1,30.8zM2013.8,1131.4h36.2l-18.1,30.8zM2017.6,1129.5h36.2l-18.1,30.8zM2021.3,1132.6h36.2l-18.1,30.8zM2025.1,1133.1h36.2l-18.1,30.8zM2028.8,1133.5h36.2l-18.1,30.8zM2032.6,1134.6h36.2l-18.1,30.8zM2036.4,1133.7h36.2l-18.1,30.8zM2040.1,1134.4h36.2l-18.1,30.8zM2043.9,1133.9h36.2l-18.1,30.8zM2047.6,1134.0h36.2l-18.1,30.8zM2051.4,1136.3h36.2l-18.1,30.8zM2055.2,1134.8h36.2l-18.1,30.8zM2058.9,1135.1h36.2l-18.1,30.8zM2062.7,1137.6h36.2l-18.1,30.8zM2066.4,1133.5h36.2l-18.1,30.8zM2070.2,1134.1h36.2l-18.1,30.8zM2074.0,1138.5h36.2l-18.1,30.8zM2077.7,1136.1h36.2l-18.1,30.8zM2081.5,1138.3h36.2l-18.1,30.8zM2085.2,1134.5h36.2l-18.1,30.8zM2089.0,1137.0h36.2l-18.1,30.8zM2092.7,1139.0h36.2l-18.1,30.8zM2096.5,1136.1h36.2l-18.1,30.8zM2100.3,1138.8h36.2l-18.1,30.8zM2104.0,1138.0h36.2l-18.1,30.8zM2107.8,1136.8h36.2l-18.1,30.8zM2111.5,1140.5h36.2l-18.1,30.8zM2115.3,1137.0h36.2l-18.1,30.8z" fill="#D95319"/>
<path d="M257.8,319.6 L261.5,183.0 L265.3,180.1 L269.0,178.3 L272.8,179.2 L276.6,181.1 L280.3,188.6 L284.1,196.0 L287.8,197.9 L291.6,199.8 L295.3,199.0 L299.1,197.9 L302.9,197.1 L306.6,197.5 L310.4,197.8 L314.1,199.0 L317.9,200.7 L321.7,202.4 L325.4,205.4 L329.2,209.2 L332.9,212.9 L336.7,216.7 L340.5,220.5 L344.2,224.2 L348.0,231.0 L351.7,240.6 L355.5,250.2 L359.2,259.9 L363.0,269.5 L366.8,277.7 L370.5,285.5 L374.3,293.2 L378.0,301.0 L381.8,307.4 L385.6,312.3 L389.3,317.2 L393.1,322.2 L396.8,326.7 L400.6,329.9 L404.4,333.0 L408.1,336.2 L411.9,339.4 L415.6,342.2 L419.4,343.5 L423.1,344.8 L426.9,346.1 L430.7,347.4 L434.4,348.8 L438.2,350.1 L441.9,351.2 L445.7,352.3 L449.5,353.5 L453.2,354.6 L457.0,355.8 L460.7,356.9 L464.5,358.4 L468.3,359.8 L472.0,361.3 L475.8,362.8 L479.5,364.3 L483.3,365.7 L487.0,367.9 L490.8,370.1 L494.6,372.4 L498.3,374.7 L502.1,377.0 L505.8,379.3 L509.6,381.4 L513.4,383.3 L517.1,385.3 L520.9,387.2 L524.6,389.2 L528.4,391.2 L532.2,391.8 L535.9,391.5 L539.7,391.2 L543.4,390.8 L547.2,390.5 L550.9,390.2 L554.7,387.6 L558.5,382.4 L562.2,377.2 L566.0,372.0 L569.7,358.1 L573.5,347.8 L577.3,361.8 L581.0,372.9 L584.8,376.1 L588.5,379.5 L592.3,383.3 L596.1,387.1 L599.8,390.8 L603.6,394.6 L607.3,398.3 L611.1,402.0 L614.8,405.4 L618.6,408.9 L622.4,412.3 L626.1,415.7 L629.9,419.2 L633.6,422.2 L637.4,423.5 L641.2,424.7 L644.9,426.0 L648.7,427.2 L652.4,428.5 L656.2,431.2 L660.0,435.0 L663.7,438.7 L667.5,432.0 L671.2,419.9 L675.0,407.7 L678.7,400.9 L682.5,415.6 L686.3,430.4 L690.0,445.0 L693.8,441.2 L697.5,437.5 L701.3,433.7 L705.1,429.9 L708.8,422.8 L712.6,415.6 L716.3,408.5 L720.1,401.3 L723.9,394.2 L727.6,394.9 L731.4,399.2 L735.1,403.4 L738.9,407.6 L742.6,414.9 L746.4,426.2 L750.2,437.5 L753.9,448.8 L757.7,458.6 L761.4,461.9 L765.2,465.1 L769.0,468.4 L772.7,471.7 L776.5,474.9 L780.2,478.1 L784.0,480.4 L787.7,482.7 L791.5,485.0 L795.3,487.3 L799.0,489.6 L802.8,491.9 L806.5,493.3 L810.3,494.7 L814.1,496.1 L817.8,497.5 L821.6,498.9 L825.3,500.3 L829.1,501.7 L832.9,503.1 L836.6,504.5 L840.4,505.6 L844.1,506.4 L847.9,507.3 L851.6,508.2 L855.4,509.1 L859.2,510.0 L862.9,510.9 L866.7,511.7 L870.4,512.6 L874.2,494.1 L878.0,459.7 L881.7,436.5 L885.5,489.9 L889.2,535.5 L893.0,515.8 L896.8,500.0 L900.5,499.7 L904.3,499.5 L908.0,499.3 L911.8,499.1 L915.5,498.9 L919.3,498.6 L923.1,498.4 L926.8,498.2 L930.6,498.8 L934.3,504.0 L938.1,509.1 L941.9,514.3 L945.6,519.5 L949.4,544.5 L953.1,527.7 L956.9,515.0 L960.7,515.0 L964.4,515.4 L968.2,519.2 L971.9,522.9 L975.7,526.7 L979.4,528.8 L983.2,530.8 L987.0,532.8 L990.7,534.8 L994.5,536.8 L998.2,538.8 L1002.0,540.8 L1005.8,542.8 L1009.5,544.7 L1013.3,546.7 L1017.0,548.7 L1020.8,550.6 L1024.6,552.6 L1028.3,554.6 L1032.1,556.5 L1035.8,558.5 L1039.6,560.5 L1043.3,562.4 L1047.1,564.4 L1050.9,566.4 L1054.6,568.6 L1058.4,572.5 L1062.1,576.3 L1065.9,580.2 L1069.7,584.0 L1073.4,587.8 L1077.2,591.7 L1080.9,595.5 L1084.7,599.4 L1088.5,603.2 L1092.2,607.0 L1096.0,610.9 L1099.7,614.7 L1103.5,616.0 L1107.2,617.7 L1111.0,619.9 L1114.8,619.3 L1118.5,623.1 L1122.3,625.5 L1126.0,626.5 L1129.8,628.3 L1133.6,623.4 L1137.3,629.9 L1141.1,633.8 L1144.8,626.7 L1148.6,630.1 L1152.4,631.2 L1156.1,635.4 L1159.9,635.3 L1163.6,637.1 L1167.4,641.9 L1171.1,633.8 L1174.9,633.3 L1178.7,632.5 L1182.4,630.8 L1186.2,663.2 L1189.9,676.6 L1193.7,667.3 L1197.5,650.3 L1201.2,650.6 L1205.0,650.1 L1208.7,651.7 L1212.5,653.9 L1216.3,659.2 L1220.0,660.1 L1223.8,659.1 L1227.5,658.8 L1231.3,662.2 L1235.0,664.4 L1238.8,676.7 L1242.6,685.7 L1246.3,688.8 L1250.1,692.3 L1253.8,700.6 L1257.6,710.0 L1261.4,719.5 L1265.1,724.2 L1268.9,721.9 L1272.6,729.5 L1276.4,729.9 L1280.2,730.1 L1283.9,732.0 L1287.7,736.0 L1291.4,741.0 L1295.2,740.1 L1298.9,744.1 L1302.7,742.1 L1306.5,740.0 L1310.2,744.5 L1314.0,747.6 L1317.7,739.2 L1321.5,745.1 L1325.3,745.9 L1329.0,754.1 L1332.8,755.0 L1336.5,744.5 L1340.3,753.3 L1344.1,750.8 L1347.8,739.9 L1351.6,743.1 L1355.3,735.2 L1359.1,749.1 L1362.8,745.2 L1366.6,750.3 L1370.4,751.8 L1374.1,463.0 L1377.9,574.5 L1381.6,598.2 L1385.4,601.4 L1389.2,628.9 L1392.9,631.2 L1396.7,653.6 L1400.4,689.3 L1404.2,682.6 L1408.0,697.8 L1411.7,711.9 L1415.5,740.8 L1419.2,724.3 L1423.0,710.6 L1426.7,723.7 L1430.5,689.0 L1434.3,699.5 L1438.0,681.9 L1441.8,679.0 L1445.5,679.1 L1449.3,663.3 L1453.1,666.7 L1456.8,637.9 L1460.6,658.3 L1464.3,646.0 L1468.1,649.2 L1471.9,624.8 L1475.6,642.9 L1479.4,645.6 L1483.1,613.2 L1486.9,620.4 L1490.6,626.9 L1494.4,634.5 L1498.2,611.7 L1501.9,607.5 L1505.7,608.1 L1509.4,619.5 L1513.2,622.7 L1517.0,607.6 L1520.7,605.3 L1524.5,607.4 L1528.2,606.8 L1532.0,610.4 L1535.8,598.6 L1539.5,615.8 L1543.3,635.2 L1547.0,614.5 L1550.8,628.8 L1554.5,607.5 L1558.3,634.9 L1562.1,644.6 L1565.8,648.0 L1569.6,487.0 L1573.3,552.8 L1577.1,596.2 L1580.9,631.4 L1584.6,597.5 L1588.4,605.9 L1592.1,670.4 L1595.9,699.9 L1599.7,680.2 L1603.4,675.5 L1607.2,701.3 L1610.9,653.7 L1614.7,661.7 L1618.4,656.2 L1622.2,692.3 L1626.0,668.2 L1629.7,661.2 L1633.5,704.4 L1637.2,729.6 L1641.0,669.2 L1644.8,708.1 L1648.5,681.6 L1652.3,723.2 L1656.0,698.0 L1659.8,668.0 L1663.5,663.2 L1667.3,644.6 L1671.1,688.0 L1674.8,678.8 L1678.6,658.5 L1682.3,676.6 L1686.1,672.8 L1689.9,716.6 L1693.6,655.4 L1697.4,737.9 L1701.1,687.7 L1704.9,698.3 L1708.7,684.4 L1712.4,719.5 L1716.2,717.2 L1719.9,690.0 L1723.7,681.4 L1727.4,704.2 L1731.2,716.6 L1735.0,670.2 L1738.7,543.0 L1742.5,644.3 L1746.2,616.2 L1750.0,613.3 L1753.8,633.5 L1757.5,697.0 L1761.3,706.7 L1765.0,734.4 L1768.8,727.7 L1772.6,678.4 L1776.3,677.5 L1780.1,686.7 L1783.8,684.5 L1787.6,728.2 L1791.3,741.2 L1795.1,745.2 L1798.9,698.7 L1802.6,744.3 L1806.4,706.6 L1810.1,715.9 L1813.9,737.9 L1817.7,697.0 L1821.4,699.6 L1825.2,747.8 L1828.9,715.9 L1832.7,721.7 L1836.5,607.0 L1840.2,699.6 L1844.0,689.4 L1847.7,725.3 L1851.5,747.9 L1855.2,767.8 L1859.0,775.5 L1862.8,806.9 L1866.5,823.5 L1870.3,806.1 L1874.0,814.0 L1877.8,801.9 L1881.6,809.9 L1885.3,825.6 L1889.1,809.7 L1892.8,837.9 L1896.6,841.0 L1900.4,817.0 L1904.1,844.1 L1907.9,826.0 L1911.6,838.5 L1915.4,837.9 L1919.1,823.8 L1922.9,829.5 L1926.7,804.9 L1930.4,786.4 L1934.2,744.5 L1937.9,641.0 L1941.7,748.0 L1945.5,763.1 L1949.2,798.2 L1953.0,818.3 L1956.7,863.3 L1960.5,863.9 L1964.3,890.5 L1968.0,896.4 L1971.8,898.4 L1975.5,885.9 L1979.3,918.3 L1983.0,918.0 L1986.8,892.3 L1990.6,929.6 L1994.3,915.5 L1998.1,884.8 L2001.8,928.8 L2005.6,884.2 L2009.4,894.3 L2013.1,915.9 L2016.9,908.5 L2020.6,905.6 L2024.4,910.5 L2028.2,899.0 L2031.9,889.9 L2035.7,881.3 L2039.4,874.2 L2043.2,904.3 L2046.9,897.1 L2050.7,868.9 L2054.5,876.0 L2058.2,825.9 L2062.0,808.5 L2065.7,820.0 L2069.5,872.4 L2073.3,779.7 L2077.0,829.1 L2080.8,799.4 L2084.5,855.4 L2088.3,808.3 L2092.1,804.6 L2095.8,810.9 L2099.6,824.7 L2103.3,854.9 L2107.1,814.4 L2110.8,874.4 L2114.6,799.2 L2118.4,822.3 L2122.1,813.5 L2125.9,828.1 L2129.6,891.7 L2133.4,892.8" fill="none" stroke="#EDB120" stroke-width="11.5" stroke-linejoin="round"/>
<path d="M247.51,319.6a10.25,10.25 0 1,0 20.5,0a10.25,10.25 0 1,0 -20.5,0M251.27,183.0a10.25,10.25 0 1,0 20.5,0a10.25,10.25 0 1,0 -20.5,0M255.03,180.1a10.25,10.25 0 1,0 20.5,0a10.25,10.25 0 1,0 -20.5,0M258.79,178.3a10.25,10.25 0 1,0 20.5,0a10.25,10.25 0 1,0 -20.5,0M262.54,179.2a10.25,10.25 0 1,0 20.5,0a10.25,10.25 0 1,0 -20.5,0M266.30,181.1a10.25,10.25 0 1,0 20.5,0a10.25,10.25 0 1,0 -20.5,0M270.06,188.6a10.25,10.25 0 1,0 20.5,0a10.25,10.25 0 1,0 -20.5,0M273.82,196.0a10.25,10.25 0 1,0 20.5,0a10.25,10.25 0 1,0 -20.5,0M277.58,197.9a10.25,10.25 0 1,0 20.5,0a10.25,10.25 0 1,0 -20.5,0M281.34,199.8a10.25,10.25 0 1,0 20.5,0a10.25,10.25 0 1,0 -20.5,0M285.10,199.0a10.25,10.25 0 1,0 20.5,0a10.25,10.25 0 1,0 -20.5,0M288.86,197.9a10.25,10.25 0 1,0 20.5,0a10.25,10.25 0 1,0 -20.5,0M292.61,197.1a10.25,10.25 0 1,0 20.5,0a10.25,10.25 0 1,0 -20.5,0M296.37,197.5a10.25,10.25 0 1,0 20.5,0a10.25,10.25 0 1,0 -20.5,0M300.13,197.8a10.25,10.25 0 1,0 20.5,0a10.25,10.25 0 1,0 -20.5,0M303.89,199.0a10.25,10.25 0 1,0 20.5,0a10.25,10.25 0 1,0 -20.5,0M307.65,200.7a10.25,10.25 0 1,0 20.5,0a10.25,10.25 0 1,0 -20.5,0M311.41,202.4a10.25,10.25 0 1,0 20.5,0a10.25,10.25 0 1,0 -20.5,0M315.17,205.4a10.25,10.25 0 1,0 20.5,0a10.25,10.25 0 1,0 -20.5,0M318.93,209.2a10.25,10.25 0 1,0 20.5,0a10.25,10.25 0 1,0 -20.5,0M322.68,212.9a10.25,10.25 0 1,0 20.5,0a10.25,10.25 0 1,0 -20.5,0M326.44,216.7a10.25,10.25 0 1,0 20.5,0a10.25,10.25 0 1,0 -20.5,0M330.20,220.5a10.25,10.25 0 1,0 20.5,0a10.25,10.25 0 1,0 -20.5,0M333.96,224.2a10.25,10.25 0 1,0 20.5,0a10.25,10.25 0 1,0 -20.5,0M337.72,231.0a10.25,10.25 0 1,0 20.5,0a10.25,10.25 0 1,0 -20.5,0M341.48,240.6a10.25,10.25 0 1,0 20.5,0a10.25,10.25 0 1,0 -20.5,0M345.24,250.2a10.25,10.25 0 1,0 20.5,0a10.25,10.25 0 1,0 -20.5,0M349.00,259.9a10.25,10.25 0 1,0 20.5,0a10.25,10.25 0 1,0 -20.5,0M352.76,269.5a10.25,10.25 0 1,0 20.5,0a10.25,10.25 0 1,0 -20.5,0M356.51,277.7a10.25,10.25 0 1,0 20.5,0a10.25,10.25 0 1,0 -20.5,0M360.27,285.5a10.25,10.25 0 1,0 20.5,0a10.25,10.25 0 1,0 -20.5,0M364.03,293.2a10.25,10.25 0 1,0 20.5,0a10.25,10.25 0 1,0 -20.5,0M367.79,301.0a10.25,10.25 0 1,0 20.5,0a10.25,10.25 0 1,0 -20.5,0M371.55,307.4a10.25,10.25 0 1,0 20.5,0a10.25,10.25 0 1,0 -20.5,0M375.31,312.3a10.25,10.25 0 1,0 20.5,0a10.25,10.25 0 1,0 -20.5,0M379.07,317.2a10.25,10.25 0 1,0 20.5,0a10.25,10.25 0 1,0 -20.5,0M382.83,322.2a10.25,10.25 0 1,0 20.5,0a10.25,10.25 0 1,0 -20.5,0M386.58,326.7a10.25,10.25 0 1,0 20.5,0a10.25,10.25 0 1,0 -20.5,0M390.34,329.9a10.25,10.25 0 1,0 20.5,0a10.25,10.25 0 1,0 -20.5,0M394.10,333.0a10.25,10.25 0 1,0 20.5,0a10.25,10.25 0 1,0 -20.5,0M397.86,336.2a10.25,10.25 0 1,0 20.5,0a10.25,10.25 0 1,0 -20.5,0M401.62,339.4a10.25,10.25 0 1,0 20.5,0a10.25,10.25 0 1,0 -20.5,0M405.38,342.2a10.25,10.25 0 1,0 20.5,0a10.25,10.25 0 1,0 -20.5,0M409.14,343.5a10.25,10.25 0 1,0 20.5,0a10.25,10.25 0 1,0 -20.5,0M412.90,344.8a10.25,10.25 0 1,0 20.5,0a10.25,10.25 0 1,0 -20.5,0M416.65,346.1a10.25,10.25 0 1,0 20.5,0a10.25,10.25 0 1,0 -20.5,0M420.41,347.4a10.25,10.25 0 1,0 20.5,0a10.25,10.25 0 1,0 -20.5,0M424.17,348.8a10.25,10.25 0 1,0 20.5,0a10.25,10.25 0 1,0 -20.5,0M427.93,350.1a10.25,10.25 0 1,0 20.5,0a10.25,10.25 0 1,0 -20.5,0M431.69,351.2a10.25,10.25 0 1,0 20.5,0a10.25,10.25 0 1,0 -20.5,0M435.45,352.3a10.25,10.25 0 1,0 20.5,0a10.25,10.25 0 1,0 -20.5,0M439.21,353.5a10.25,10.25 0 1,0 20.5,0a10.25,10.25 0 1,0 -20.5,0M442.97,354.6a10.25,10.25 0 1,0 20.5,0a10.25,10.25 0 1,0 -20.5,0M446.73,355.8a10.25,10.25 0 1,0 20.5,0a10.25,10.25 0 1,0 -20.5,0M450.48,356.9a10.25,10.25 0 1,0 20.5,0a10.25,10.25 0 1,0 -20.5,0M454.24,358.4a10.25,10.25 0 1,0 20.5,0a10.25,10.25 0 1,0 -20.5,0M458.00,359.8a10.25,10.25 0 1,0 20.5,0a10.25,10.25 0 1,0 -20.5,0M461.76,361.3a10.25,10.25 0 1,0 20.5,0a10.25,10.25 0 1,0 -20.5,0M465.52,362.8a10.25,10.25 0 1,0 20.5,0a10.25,10.25 0 1,0 -20.5,0M469.28,364.3a10.25,10.25 0 1,0 20.5,0a10.25,10.25 0 1,0 -20.5,0M473.04,365.7a10.25,10.25 0 1,0 20.5,0a10.25,10.25 0 1,0 -20.5,0M476.80,367.9a10.25,10.25 0 1,0 20.5,0a10.25,10.25 0 1,0 -20.5,0M480.55,370.1a10.25,10.25 0 1,0 20.5,0a10.25,10.25 0 1,0 -20.5,0M484.31,372.4a10.25,10.25 0 1,0 20.5,0a10.25,10.25 0 1,0 -20.5,0M488.07,374.7a10.25,10.25 0 1,0 20.5,0a10.25,10.25 0 1,0 -20.5,0M491.83,377.0a10.25,10.25 0 1,0 20.5,0a10.25,10.25 0 1,0 -20.5,0M495.59,379.3a10.25,10.25 0 1,0 20.5,0a10.25,10.25 0 1,0 -20.5,0M499.35,381.4a10.25,10.25 0 1,0 20.5,0a10.25,10.25 0 1,0 -20.5,0M503.11,383.3a10.25,10.25 0 1,0 20.5,0a10.25,10.25 0 1,0 -20.5,0M506.87,385.3a10.25,10.25 0 1,0 20.5,0a10.25,10.25 0 1,0 -20.5,0M510.62,387.2a10.25,10.25 0 1,0 20.5,0a10.25,10.25 0 1,0 -20.5,0M514.38,389.2a10.25,10.25 0 1,0 20.5,0a10.25,10.25 0 1,0 -20.5,0M518.14,391.2a10.25,10.25 0 1,0 20.5,0a10.25,10.25 0 1,0 -20.5,0M521.90,391.8a10.25,10.25 0 1,0 20.5,0a10.25,10.25 0 1,0 -20.5,0M525.66,391.5a10.25,10.25 0 1,0 20.5,0a10.25,10.25 0 1,0 -20.5,0M529.42,391.2a10.25,10.25 0 1,0 20.5,0a10.25,10.25 0 1,0 -20.5,0M533.18,390.8a10.25,10.25 0 1,0 20.5,0a10.25,10.25 0 1,0 -20.5,0M536.94,390.5a10.25,10.25 0 1,0 20.5,0a10.25,10.25 0 1,0 -20.5,0M540.70,390.2a10.25,10.25 0 1,0 20.5,0a10.25,10.25 0 1,0 -20.5,0M544.45,387.6a10.25,10.25 0 1,0 20.5,0a10.25,10.25 0 1,0 -20.5,0M548.21,382.4a10.25,10.25 0 1,0 20.5,0a10.25,10.25 0 1,0 -20.5,0M551.97,377.2a10.25,10.25 0 1,0 20.5,0a10.25,10.25 0 1,0 -20.5,0M555.73,372.0a10.25,10.25 0 1,0 20.5,0a10.25,10.25 0 1,0 -20.5,0M559.49,358.1a10.25,10.25 0 1,0 20.5,0a10.25,10.25 0 1,0 -20.5,0M563.25,347.8a10.25,10.25 0 1,0 20.5,0a10.25,10.25 0 1,0 -20.5,0M567.01,361.8a10.25,10.25 0 1,0 20.5,0a10.25,10.25 0 1,0 -20.5,0M570.77,372.9a10.25,10.25 0 1,0 20.5,0a10.25,10.25 0 1,0 -20.5,0M574.52,376.1a10.25,10.25 0 1,0 20.5,0a10.25,10.25 0 1,0 -20.5,0M578.28,379.5a10.25,10.25 0 1,0 20.5,0a10.25,10.25 0 1,0 -20.5,0M582.04,383.3a10.25,10.25 0 1,0 20.5,0a10.25,10.25 0 1,0 -20.5,0M585.80,387.1a10.25,10.25 0 1,0 20.5,0a10.25,10.25 0 1,0 -20.5,0M589.56,390.8a10.25,10.25 0 1,0 20.5,0a10.25,10.25 0 1,0 -20.5,0M593.32,394.6a10.25,10.25 0 1,0 20.5,0a10.25,10.25 0 1,0 -20.5,0M597.08,398.3a10.25,10.25 0 1,0 20.5,0a10.25,10.25 0 1,0 -20.5,0M600.84,402.0a10.25,10.25 0 1,0 20.5,0a10.25,10.25 0 1,0 -20.5,0M604.59,405.4a10.25,10.25 0 1,0 20.5,0a10.25,10.25 0 1,0 -20.5,0M608.35,408.9a10.25,10.25 0 1,0 20.5,0a10.25,10.25 0 1,0 -20.5,0M612.11,412.3a10.25,10.25 0 1,0 20.5,0a10.25,10.25 0 1,0 -20.5,0M615.87,415.7a10.25,10.25 0 1,0 20.5,0a10.25,10.25 0 1,0 -20.5,0M619.63,419.2a10.25,10.25 0 1,0 20.5,0a10.25,10.25 0 1,0 -20.5,0M623.39,422.2a10.25,10.25 0 1,0 20.5,0a10.25,10.25 0 1,0 -20.5,0M627.15,423.5a10.25,10.25 0 1,0 20.5,0a10.25,10.25 0 1,0 -20.5,0M630.91,424.7a10.25,10.25 0 1,0 20.5,0a10.25,10.25 0 1,0 -20.5,0M634.67,426.0a10.25,10.25 0 1,0 20.5,0a10.25,10.25 0 1,0 -20.5,0M638.42,427.2a10.25,10.25 0 1,0 20.5,0a10.25,10.25 0 1,0 -20.5,0M642.18,428.5a10.25,10.25 0 1,0 20.5,0a10.25,10.25 0 1,0 -20.5,0M645.94,431.2a10.25,10.25 0 1,0 20.5,0a10.25,10.25 0 1,0 -20.5,0M649.70,435.0a10.25,10.25 0 1,0 20.5,0a10.25,10.25 0 1,0 -20.5,0M653.46,438.7a10.25,10.25 0 1,0 20.5,0a10.25,10.25 0 1,0 -20.5,0M657.22,432.0a10.25,10.25 0 1,0 20.5,0a10.25,10.25 0 1,0 -20.5,0M660.98,419.9a10.25,10.25 0 1,0 20.5,0a10.25,10.25 0 1,0 -20.5,0M664.74,407.7a10.25,10.25 0 1,0 20.5,0a10.25,10.25 0 1,0 -20.5,0M668.49,400.9a10.25,10.25 0 1,0 20.5,0a10.25,10.25 0 1,0 -20.5,0M672.25,415.6a10.25,10.25 0 1,0 20.5,0a10.25,10.25 0 1,0 -20.5,0M676.01,430.4a10.25,10.25 0 1,0 20.5,0a10.25,10.25 0 1,0 -20.5,0M679.77,445.0a10.25,10.25 0 1,0 20.5,0a10.25,10.25 0 1,0 -20.5,0M683.53,441.2a10.25,10.25 0 1,0 20.5,0a10.25,10.25 0 1,0 -20.5,0M687.29,437.5a10.25,10.25 0 1,0 20.5,0a10.25,10.25 0 1,0 -20.5,0M691.05,433.7a10.25,10.25 0 1,0 20.5,0a10.25,10.25 0 1,0 -20.5,0M694.81,429.9a10.25,10.25 0 1,0 20.5,0a10.25,10.25 0 1,0 -20.5,0M698.56,422.8a10.25,10.25 0 1,0 20.5,0a10.25,10.25 0 1,0 -20.5,0M702.32,415.6a10.25,10.25 0 1,0 20.5,0a10.25,10.25 0 1,0 -20.5,0M706.08,408.5a10.25,10.25 0 1,0 20.5,0a10.25,10.25 0 1,0 -20.5,0M709.84,401.3a10.25,10.25 0 1,0 20.5,0a10.25,10.25 0 1,0 -20.5,0M713.60,394.2a10.25,10.25 0 1,0 20.5,0a10.25,10.25 0 1,0 -20.5,0M717.36,394.9a10.25,10.25 0 1,0 20.5,0a10.25,10.25 0 1,0 -20.5,0M721.12,399.2a10.25,10.25 0 1,0 20.5,0a10.25,10.25 0 1,0 -20.5,0M724.88,403.4a10.25,10.25 0 1,0 20.5,0a10.25,10.25 0 1,0 -20.5,0M728.64,407.6a10.25,10.25 0 1,0 20.5,0a10.25,10.25 0 1,0 -20.5,0M732.39,414.9a10.25,10.25 0 1,0 20.5,0a10.25,10.25 0 1,0 -20.5,0M736.15,426.2a10.25,10.25 0 1,0 20.5,0a10.25,10.25 0 1,0 -20.5,0M739.91,437.5a10.25,10.25 0 1,0 20.5,0a10.25,10.25 0 1,0 -20.5,0M743.67,448.8a10.25,10.25 0 1,0 20.5,0a10.25,10.25 0 1,0 -20.5,0M747.43,458.6a10.25,10.25 0 1,0 20.5,0a10.25,10.25 0 1,0 -20.5,0M751.19,461.9a10.25,10.25 0 1,0 20.5,0a10.25,10.25 0 1,0 -20.5,0M754.95,465.1a10.25,10.25 0 1,0 20.5,0a10.25,10.25 0 1,0 -20.5,0M758.71,468.4a10.25,10.25 0 1,0 20.5,0a10.25,10.25 0 1,0 -20.5,0M762.46,471.7a10.25,10.25 0 1,0 20.5,0a10.25,10.25 0 1,0 -20.5,0M766.22,474.9a10.25,10.25 0 1,0 20.5,0a10.25,10.25 0 1,0 -20.5,0M769.98,478.1a10.25,10.25 0 1,0 20.5,0a10.25,10.25 0 1,0 -20.5,0M773.74,480.4a10.25,10.25 0 1,0 20.5,0a10.25,10.25 0 1,0 -20.5,0M777.50,482.7a10.25,10.25 0 1,0 20.5,0a10.25,10.25 0 1,0 -20.5,0M781.26,485.0a10.25,10.25 0 1,0 20.5,0a10.25,10.25 0 1,0 -20.5,0M785.02,487.3a10.25,10.25 0 1,0 20.5,0a10.25,10.25 0 1,0 -20.5,0M788.78,489.6a10.25,10.25 0 1,0 20.5,0a10.25,10.25 0 1,0 -20.5,0M792.53,491.9a10.25,10.25 0 1,0 20.5,0a10.25,10.25 0 1,0 -20.5,0M796.29,493.3a10.25,10.25 0 1,0 20.5,0a10.25,10.25 0 1,0 -20.5,0M800.05,494.7a10.25,10.25 0 1,0 20.5,0a10.25,10.25 0 1,0 -20.5,0M803.81,496.1a10.25,10.25 0 1,0 20.5,0a10.25,10.25 0 1,0 -20.5,0M807.57,497.5a10.25,10.25 0 1,0 20.5,0a10.25,10.25 0 1,0 -20.5,0M811.33,498.9a10.25,10.25 0 1,0 20.5,0a10.25,10.25 0 1,0 -20.5,0M815.09,500.3a10.25,10.25 0 1,0 20.5,0a10.25,10.25 0 1,0 -20.5,0M818.85,501.7a10.25,10.25 0 1,0 20.5,0a10.25,10.25 0 1,0 -20.5,0M822.61,503.1a10.25,10.25 0 1,0 20.5,0a10.25,10.25 0 1,0 -20.5,0M826.36,504.5a10.25,10.25 0 1,0 20.5,0a10.25,10.25 0 1,0 -20.5,0M830.12,505.6a10.25,10.25 0 1,0 20.5,0a10.25,10.25 0 1,0 -20.5,0M833.88,506.4a10.25,10.25 0 1,0 20.5,0a10.25,10.25 0 1,0 -20.5,0M837.64,507.3a10.25,10.25 0 1,0 20.5,0a10.25,10.25 0 1,0 -20.5,0M841.40,508.2a10.25,10.25 0 1,0 20.5,0a10.25,10.25 0 1,0 -20.5,0M845.16,509.1a10.25,10.25 0 1,0 20.5,0a10.25,10.25 0 1,0 -20.5,0M848.92,510.0a10.25,10.25 0 1,0 20.5,0a10.25,10.25 0 1,0 -20.5,0M852.68,510.9a10.25,10.25 0 1,0 20.5,0a10.25,10.25 0 1,0 -20.5,0M856.43,511.7a10.25,10.25 0 1,0 20.5,0a10.25,10.25 0 1,0 -20.5,0M860.19,512.6a10.25,10.25 0 1,0 20.5,0a10.25,10.25 0 1,0 -20.5,0M863.95,494.1a10.25,10.25 0 1,0 20.5,0a10.25,10.25 0 1,0 -20.5,0M867.71,459.7a10.25,10.25 0 1,0 20.5,0a10.25,10.25 0 1,0 -20.5,0M871.47,436.5a10.25,10.25 0 1,0 20.5,0a10.25,10.25 0 1,0 -20.5,0M875.23,489.9a10.25,10.25 0 1,0 20.5,0a10.25,10.25 0 1,0 -20.5,0M878.99,535.5a10.25,10.25 0 1,0 20.5,0a10.25,10.25 0 1,0 -20.5,0M882.75,515.8a10.25,10.25 0 1,0 20.5,0a10.25,10.25 0 1,0 -20.5,0M886.50,500.0a10.25,10.25 0 1,0 20.5,0a10.25,10.25 0 1,0 -20.5,0M890.26,499.7a10.25,10.25 0 1,0 20.5,0a10.25,10.25 0 1,0 -20.5,0M894.02,499.5a10.25,10.25 0 1,0 20.5,0a10.25,10.25 0 1,0 -20.5,0M897.78,499.3a10.25,10.25 0 1,0 20.5,0a10.25,10.25 0 1,0 -20.5,0M901.54,499.1a10.25,10.25 0 1,0 20.5,0a10.25,10.25 0 1,0 -20.5,0M905.30,498.9a10.25,10.25 0 1,0 20.5,0a10.25,10.25 0 1,0 -20.5,0M909.06,498.6a10.25,10.25 0 1,0 20.5,0a10.25,10.25 0 1,0 -20.5,0M912.82,498.4a10.25,10.25 0 1,0 20.5,0a10.25,10.25 0 1,0 -20.5,0M916.58,498.2a10.25,10.25 0 1,0 20.5,0a10.25,10.25 0 1,0 -20.5,0M920.33,498.8a10.25,10.25 0 1,0 20.5,0a10.25,10.25 0 1,0 -20.5,0M924.09,504.0a10.25,10.25 0 1,0 20.5,0a10.25,10.25 0 1,0 -20.5,0M927.85,509.1a10.25,10.25 0 1,0 20.5,0a10.25,10.25 0 1,0 -20.5,0M931.61,514.3a10.25,10.25 0 1,0 20.5,0a10.25,10.25 0 1,0 -20.5,0M935.37,519.5a10.25,10.25 0 1,0 20.5,0a10.25,10.25 0 1,0 -20.5,0M939.13,544.5a10.25,10.25 0 1,0 20.5,0a10.25,10.25 0 1,0 -20.5,0M942.89,527.7a10.25,10.25 0 1,0 20.5,0a10.25,10.25 0 1,0 -20.5,0M946.65,515.0a10.25,10.25 0 1,0 20.5,0a10.25,10.25 0 1,0 -20.5,0M950.40,515.0a10.25,10.25 0 1,0 20.5,0a10.25,10.25 0 1,0 -20.5,0M954.16,515.4a10.25,10.25 0 1,0 20.5,0a10.25,10.25 0 1,0 -20.5,0M957.92,519.2a10.25,10.25 0 1,0 20.5,0a10.25,10.25 0 1,0 -20.5,0M961.68,522.9a10.25,10.25 0 1,0 20.5,0a10.25,10.25 0 1,0 -20.5,0M965.44,526.7a10.25,10.25 0 1,0 20.5,0a10.25,10.25 0 1,0 -20.5,0M969.20,528.8a10.25,10.25 0 1,0 20.5,0a10.25,10.25 0 1,0 -20.5,0M972.96,530.8a10.25,10.25 0 1,0 20.5,0a10.25,10.25 0 1,0 -20.5,0M976.72,532.8a10.25,10.25 0 1,0 20.5,0a10.25,10.25 0 1,0 -20.5,0M980.47,534.8a10.25,10.25 0 1,0 20.5,0a10.25,10.25 0 1,0 -20.5,0M984.23,536.8a10.25,10.25 0 1,0 20.5,0a10.25,10.25 0 1,0 -20.5,0M987.99,538.8a10.25,10.25 0 1,0 20.5,0a10.25,10.25 0 1,0 -20.5,0M991.75,540.8a10.25,10.25 0 1,0 20.5,0a10.25,10.25 0 1,0 -20.5,0M995.51,542.8a10.25,10.25 0 1,0 20.5,0a10.25,10.25 0 1,0 -20.5,0M999.27,544.7a10.25,10.25 0 1,0 20.5,0a10.25,10.25 0 1,0 -20.5,0M1003.03,546.7a10.25,10.25 0 1,0 20.5,0a10.25,10.25 0 1,0 -20.5,0M1006.79,548.7a10.25,10.25 0 1,0 20.5,0a10.25,10.25 0 1,0 -20.5,0M1010.55,550.6a10.25,10.25 0 1,0 20.5,0a10.25,10.25 0 1,0 -20.5,0M1014.30,552.6a10.25,10.25 0 1,0 20.5,0a10.25,10.25 0 1,0 -20.5,0M1018.06,554.6a10.25,10.25 0 1,0 20.5,0a10.25,10.25 0 1,0 -20.5,0M1021.82,556.5a10.25,10.25 0 1,0 20.5,0a10.25,10.25 0 1,0 -20.5,0M1025.58,558.5a10.25,10.25 0 1,0 20.5,0a10.25,10.25 0 1,0 -20.5,0M1029.34,560.5a10.25,10.25 0 1,0 20.5,0a10.25,10.25 0 1,0 -20.5,0M1033.10,562.4a10.25,10.25 0 1,0 20.5,0a10.25,10.25 0 1,0 -20.5,0M1036.86,564.4a10.25,10.25 0 1,0 20.5,0a10.25,10.25 0 1,0 -20.5,0M1040.62,566.4a10.25,10.25 0 1,0 20.5,0a10.25,10.25 0 1,0 -20.5,0M1044.37,568.6a10.25,10.25 0 1,0 20.5,0a10.25,10.25 0 1,0 -20.5,0M1048.13,572.5a10.25,10.25 0 1,0 20.5,0a10.25,10.25 0 1,0 -20.5,0M1051.89,576.3a10.25,10.25 0 1,0 20.5,0a10.25,10.25 0 1,0 -20.5,0M1055.65,580.2a10.25,10.25 0 1,0 20.5,0a10.25,10.25 0 1,0 -20.5,0M1059.41,584.0a10.25,10.25 0 1,0 20.5,0a10.25,10.25 0 1,0 -20.5,0M1063.17,587.8a10.25,10.25 0 1,0 20.5,0a10.25,10.25 0 1,0 -20.5,0M1066.93,591.7a10.25,10.25 0 1,0 20.5,0a10.25,10.25 0 1,0 -20.5,0M1070.69,595.5a10.25,10.25 0 1,0 20.5,0a10.25,10.25 0 1,0 -20.5,0M1074.44,599.4a10.25,10.25 0 1,0 20.5,0a10.25,10.25 0 1,0 -20.5,0M1078.20,603.2a10.25,10.25 0 1,0 20.5,0a10.25,10.25 0 1,0 -20.5,0M1081.96,607.0a10.25,10.25 0 1,0 20.5,0a10.25,10.25 0 1,0 -20.5,0M1085.72,610.9a10.25,10.25 0 1,0 20.5,0a10.25,10.25 0 1,0 -20.5,0M1089.48,614.7a10.25,10.25 0 1,0 20.5,0a10.25,10.25 0 1,0 -20.5,0M1093.24,616.0a10.25,10.25 0 1,0 20.5,0a10.25,10.25 0 1,0 -20.5,0M1097.00,617.7a10.25,10.25 0 1,0 20.5,0a10.25,10.25 0 1,0 -20.5,0M1100.76,619.9a10.25,10.25 0 1,0 20.5,0a10.25,10.25 0 1,0 -20.5,0M1104.52,619.3a10.25,10.25 0 1,0 20.5,0a10.25,10.25 0 1,0 -20.5,0M1108.27,623.1a10.25,10.25 0 1,0 20.5,0a10.25,10.25 0 1,0 -20.5,0M1112.03,625.5a10.25,10.25 0 1,0 20.5,0a10.25,10.25 0 1,0 -20.5,0M1115.79,626.5a10.25,10.25 0 1,0 20.5,0a10.25,10.25 0 1,0 -20.5,0M1119.55,628.3a10.25,10.25 0 1,0 20.5,0a10.25,10.25 0 1,0 -20.5,0M1123.31,623.4a10.25,10.25 0 1,0 20.5,0a10.25,10.25 0 1,0 -20.5,0M1127.07,629.9a10.25,10.25 0 1,0 20.5,0a10.25,10.25 0 1,0 -20.5,0M1130.83,633.8a10.25,10.25 0 1,0 20.5,0a10.25,10.25 0 1,0 -20.5,0M1134.59,626.7a10.25,10.25 0 1,0 20.5,0a10.25,10.25 0 1,0 -20.5,0M1138.34,630.1a10.25,10.25 0 1,0 20.5,0a10.25,10.25 0 1,0 -20.5,0M1142.10,631.2a10.25,10.25 0 1,0 20.5,0a10.25,10.25 0 1,0 -20.5,0M1145.86,635.4a10.25,10.25 0 1,0 20.5,0a10.25,10.25 0 1,0 -20.5,0M1149.62,635.3a10.25,10.25 0 1,0 20.5,0a10.25,10.25 0 1,0 -20.5,0M1153.38,637.1a10.25,10.25 0 1,0 20.5,0a10.25,10.25 0 1,0 -20.5,0M1157.14,641.9a10.25,10.25 0 1,0 20.5,0a10.25,10.25 0 1,0 -20.5,0M1160.90,633.8a10.25,10.25 0 1,0 20.5,0a10.25,10.25 0 1,0 -20.5,0M1164.66,633.3a10.25,10.25 0 1,0 20.5,0a10.25,10.25 0 1,0 -20.5,0M1168.41,632.5a10.25,10.25 0 1,0 20.5,0a10.25,10.25 0 1,0 -20.5,0M1172.17,630.8a10.25,10.25 0 1,0 20.5,0a10.25,10.25 0 1,0 -20.5,0M1175.93,663.2a10.25,10.25 0 1,0 20.5,0a10.25,10.25 0 1,0 -20.5,0M1179.69,676.6a10.25,10.25 0 1,0 20.5,0a10.25,10.25 0 1,0 -20.5,0M1183.45,667.3a10.25,10.25 0 1,0 20.5,0a10.25,10.25 0 1,0 -20.5,0M1187.21,650.3a10.25,10.25 0 1,0 20.5,0a10.25,10.25 0 1,0 -20.5,0M1190.97,650.6a10.25,10.25 0 1,0 20.5,0a10.25,10.25 0 1,0 -20.5,0M1194.73,650.1a10.25,10.25 0 1,0 20.5,0a10.25,10.25 0 1,0 -20.5,0M1198.49,651.7a10.25,10.25 0 1,0 20.5,0a10.25,10.25 0 1,0 -20.5,0M1202.24,653.9a10.25,10.25 0 1,0 20.5,0a10.25,10.25 0 1,0 -20.5,0M1206.00,659.2a10.25,10.25 0 1,0 20.5,0a10.25,10.25 0 1,0 -20.5,0M1209.76,660.1a10.25,10.25 0 1,0 20.5,0a10.25,10.25 0 1,0 -20.5,0M1213.52,659.1a10.25,10.25 0 1,0 20.5,0a10.25,10.25 0 1,0 -20.5,0M1217.28,658.8a10.25,10.25 0 1,0 20.5,0a10.25,10.25 0 1,0 -20.5,0M1221.04,662.2a10.25,10.25 0 1,0 20.5,0a10.25,10.25 0 1,0 -20.5,0M1224.80,664.4a10.25,10.25 0 1,0 20.5,0a10.25,10.25 0 1,0 -20.5,0M1228.56,676.7a10.25,10.25 0 1,0 20.5,0a10.25,10.25 0 1,0 -20.5,0M1232.31,685.7a10.25,10.25 0 1,0 20.5,0a10.25,10.25 0 1,0 -20.5,0M1236.07,688.8a10.25,10.25 0 1,0 20.5,0a10.25,10.25 0 1,0 -20.5,0M1239.83,692.3a10.25,10.25 0 1,0 20.5,0a10.25,10.25 0 1,0 -20.5,0M1243.59,700.6a10.25,10.25 0 1,0 20.5,0a10.25,10.25 0 1,0 -20.5,0M1247.35,710.0a10.25,10.25 0 1,0 20.5,0a10.25,10.25 0 1,0 -20.5,0M1251.11,719.5a10.25,10.25 0 1,0 20.5,0a10.25,10.25 0 1,0 -20.5,0M1254.87,724.2a10.25,10.25 0 1,0 20.5,0a10.25,10.25 0 1,0 -20.5,0M1258.63,721.9a10.25,10.25 0 1,0 20.5,0a10.25,10.25 0 1,0 -20.5,0M1262.38,729.5a10.25,10.25 0 1,0 20.5,0a10.25,10.25 0 1,0 -20.5,0M1266.14,729.9a10.25,10.25 0 1,0 20.5,0a10.25,10.25 0 1,0 -20.5,0M1269.90,730.1a10.25,10.25 0 1,0 20.5,0a10.25,10.25 0 1,0 -20.5,0M1273.66,732.0a10.25,10.25 0 1,0 20.5,0a10.25,10.25 0 1,0 -20.5,0M1277.42,736.0a10.25,10.25 0 1,0 20.5,0a10.25,10.25 0 1,0 -20.5,0M1281.18,741.0a10.25,10.25 0 1,0 20.5,0a10.25,10.25 0 1,0 -20.5,0M1284.94,740.1a10.25,10.25 0 1,0 20.5,0a10.25,10.25 0 1,0 -20.5,0M1288.70,744.1a10.25,10.25 0 1,0 20.5,0a10.25,10.25 0 1,0 -20.5,0M1292.46,742.1a10.25,10.25 0 1,0 20.5,0a10.25,10.25 0 1,0 -20.5,0M1296.21,740.0a10.25,10.25 0 1,0 20.5,0a10.25,10.25 0 1,0 -20.5,0M1299.97,744.5a10.25,10.25 0 1,0 20.5,0a10.25,10.25 0 1,0 -20.5,0M1303.73,747.6a10.25,10.25 0 1,0 20.5,0a10.25,10.25 0 1,0 -20.5,0M1307.49,739.2a10.25,10.25 0 1,0 20.5,0a10.25,10.25 0 1,0 -20.5,0M1311.25,745.1a10.25,10.25 0 1,0 20.5,0a10.25,10.25 0 1,0 -20.5,0M1315.01,745.9a10.25,10.25 0 1,0 20.5,0a10.25,10.25 0 1,0 -20.5,0M1318.77,754.1a10.25,10.25 0 1,0 20.5,0a10.25,10.25 0 1,0 -20.5,0M1322.53,755.0a10.25,10.25 0 1,0 20.5,0a10.25,10.25 0 1,0 -20.5,0M1326.28,744.5a10.25,10.25 0 1,0 20.5,0a10.25,10.25 0 1,0 -20.5,0M1330.04,753.3a10.25,10.25 0 1,0 20.5,0a10.25,10.25 0 1,0 -20.5,0M1333.80,750.8a10.25,10.25 0 1,0 20.5,0a10.25,10.25 0 1,0 -20.5,0M1337.56,739.9a10.25,10.25 0 1,0 20.5,0a10.25,10.25 0 1,0 -20.5,0M1341.32,743.1a10.25,10.25 0 1,0 20.5,0a10.25,10.25 0 1,0 -20.5,0M1345.08,735.2a10.25,10.25 0 1,0 20.5,0a10.25,10.25 0 1,0 -20.5,0M1348.84,749.1a10.25,10.25 0 1,0 20.5,0a10.25,10.25 0 1,0 -20.5,0M1352.60,745.2a10.25,10.25 0 1,0 20.5,0a10.25,10.25 0 1,0 -20.5,0M1356.35,750.3a10.25,10.25 0 1,0 20.5,0a10.25,10.25 0 1,0 -20.5,0M1360.11,751.8a10.25,10.25 0 1,0 20.5,0a10.25,10.25 0 1,0 -20.5,0M1363.87,463.0a10.25,10.25 0 1,0 20.5,0a10.25,10.25 0 1,0 -20.5,0M1367.63,574.5a10.25,10.25 0 1,0 20.5,0a10.25,10.25 0 1,0 -20.5,0M1371.39,598.2a10.25,10.25 0 1,0 20.5,0a10.25,10.25 0 1,0 -20.5,0M1375.15,601.4a10.25,10.25 0 1,0 20.5,0a10.25,10.25 0 1,0 -20.5,0M1378.91,628.9a10.25,10.25 0 1,0 20.5,0a10.25,10.25 0 1,0 -20.5,0M1382.67,631.2a10.25,10.25 0 1,0 20.5,0a10.25,10.25 0 1,0 -20.5,0M1386.43,653.6a10.25,10.25 0 1,0 20.5,0a10.25,10.25 0 1,0 -20.5,0M1390.18,689.3a10.25,10.25 0 1,0 20.5,0a10.25,10.25 0 1,0 -20.5,0M1393.94,682.6a10.25,10.25 0 1,0 20.5,0a10.25,10.25 0 1,0 -20.5,0M1397.70,697.8a10.25,10.25 0 1,0 20.5,0a10.25,10.25 0 1,0 -20.5,0M1401.46,711.9a10.25,10.25 0 1,0 20.5,0a10.25,10.25 0 1,0 -20.5,0M1405.22,740.8a10.25,10.25 0 1,0 20.5,0a10.25,10.25 0 1,0 -20.5,0M1408.98,724.3a10.25,10.25 0 1,0 20.5,0a10.25,10.25 0 1,0 -20.5,0M1412.74,710.6a10.25,10.25 0 1,0 20.5,0a10.25,10.25 0 1,0 -20.5,0M1416.50,723.7a10.25,10.25 0 1,0 20.5,0a10.25,10.25 0 1,0 -20.5,0M1420.25,689.0a10.25,10.25 0 1,0 20.5,0a10.25,10.25 0 1,0 -20.5,0M1424.01,699.5a10.25,10.25 0 1,0 20.5,0a10.25,10.25 0 1,0 -20.5,0M1427.77,681.9a10.25,10.25 0 1,0 20.5,0a10.25,10.25 0 1,0 -20.5,0M1431.53,679.0a10.25,10.25 0 1,0 20.5,0a10.25,10.25 0 1,0 -20.5,0M1435.29,679.1a10.25,10.25 0 1,0 20.5,0a10.25,10.25 0 1,0 -20.5,0M1439.05,663.3a10.25,10.25 0 1,0 20.5,0a10.25,10.25 0 1,0 -20.5,0M1442.81,666.7a10.25,10.25 0 1,0 20.5,0a10.25,10.25 0 1,0 -20.5,0M1446.57,637.9a10.25,10.25 0 1,0 20.5,0a10.25,10.25 0 1,0 -20.5,0M1450.32,658.3a10.25,10.25 0 1,0 20.5,0a10.25,10.25 0 1,0 -20.5,0M1454.08,646.0a10.25,10.25 0 1,0 20.5,0a10.25,10.25 0 1,0 -20.5,0M1457.84,649.2a10.25,10.25 0 1,0 20.5,0a10.25,10.25 0 1,0 -20.5,0M1461.60,624.8a10.25,10.25 0 1,0 20.5,0a10.25,10.25 0 1,0 -20.5,0M1465.36,642.9a10.25,10.25 0 1,0 20.5,0a10.25,10.25 0 1,0 -20.5,0M1469.12,645.6a10.25,10.25 0 1,0 20.5,0a10.25,10.25 0 1,0 -20.5,0M1472.88,613.2a10.25,10.25 0 1,0 20.5,0a10.25,10.25 0 1,0 -20.5,0M1476.64,620.4a10.25,10.25 0 1,0 20.5,0a10.25,10.25 0 1,0 -20.5,0M1480.40,626.9a10.25,10.25 0 1,0 20.5,0a10.25,10.25 0 1,0 -20.5,0M1484.15,634.5a10.25,10.25 0 1,0 20.5,0a10.25,10.25 0 1,0 -20.5,0M1487.91,611.7a10.25,10.25 0 1,0 20.5,0a10.25,10.25 0 1,0 -20.5,0M1491.67,607.5a10.25,10.25 0 1,0 20.5,0a10.25,10.25 0 1,0 -20.5,0M1495.43,608.1a10.25,10.25 0 1,0 20.5,0a10.25,10.25 0 1,0 -20.5,0M1499.19,619.5a10.25,10.25 0 1,0 20.5,0a10.25,10.25 0 1,0 -20.5,0M1502.95,622.7a10.25,10.25 0 1,0 20.5,0a10.25,10.25 0 1,0 -20.5,0M1506.71,607.6a10.25,10.25 0 1,0 20.5,0a10.25,10.25 0 1,0 -20.5,0M1510.47,605.3a10.25,10.25 0 1,0 20.5,0a10.25,10.25 0 1,0 -20.5,0M1514.22,607.4a10.25,10.25 0 1,0 20.5,0a10.25,10.25 0 1,0 -20.5,0M1517.98,606.8a10.25,10.25 0 1,0 20.5,0a10.25,10.25 0 1,0 -20.5,0M1521.74,610.4a10.25,10.25 0 1,0 20.5,0a10.25,10.25 0 1,0 -20.5,0M1525.50,598.6a10.25,10.25 0 1,0 20.5,0a10.25,10.25 0 1,0 -20.5,0M1529.26,615.8a10.25,10.25 0 1,0 20.5,0a10.25,10.25 0 1,0 -20.5,0M1533.02,635.2a10.25,10.25 0 1,0 20.5,0a10.25,10.25 0 1,0 -20.5,0M1536.78,614.5a10.25,10.25 0 1,0 20.5,0a10.25,10.25 0 1,0 -20.5,0M1540.54,628.8a10.25,10.25 0 1,0 20.5,0a10.25,10.25 0 1,0 -20.5,0M1544.29,607.5a10.25,10.25 0 1,0 20.5,0a10.25,10.25 0 1,0 -20.5,0M1548.05,634.9a10.25,10.25 0 1,0 20.5,0a10.25,10.25 0 1,0 -20.5,0M1551.81,644.6a10.25,10.25 0 1,0 20.5,0a10.25,10.25 0 1,0 -20.5,0M1555.57,648.0a10.25,10.25 0 1,0 20.5,0a10.25,10.25 0 1,0 -20.5,0M1559.33,487.0a10.25,10.25 0 1,0 20.5,0a10.25,10.25 0 1,0 -20.5,0M1563.09,552.8a10.25,10.25 0 1,0 20.5,0a10.25,10.25 0 1,0 -20.5,0M1566.85,596.2a10.25,10.25 0 1,0 20.5,0a10.25,10.25 0 1,0 -20.5,0M1570.61,631.4a10.25,10.25 0 1,0 20.5,0a10.25,10.25 0 1,0 -20.5,0M1574.37,597.5a10.25,10.25 0 1,0 20.5,0a10.25,10.25 0 1,0 -20.5,0M1578.12,605.9a10.25,10.25 0 1,0 20.5,0a10.25,10.25 0 1,0 -20.5,0M1581.88,670.4a10.25,10.25 0 1,0 20.5,0a10.25,10.25 0 1,0 -20.5,0M1585.64,699.9a10.25,10.25 0 1,0 20.5,0a10.25,10.25 0 1,0 -20.5,0M1589.40,680.2a10.25,10.25 0 1,0 20.5,0a10.25,10.25 0 1,0 -20.5,0M1593.16,675.5a10.25,10.25 0 1,0 20.5,0a10.25,10.25 0 1,0 -20.5,0M1596.92,701.3a10.25,10.25 0 1,0 20.5,0a10.25,10.25 0 1,0 -20.5,0M1600.68,653.7a10.25,10.25 0 1,0 20.5,0a10.25,10.25 0 1,0 -20.5,0M1604.44,661.7a10.25,10.25 0 1,0 20.5,0a10.25,10.25 0 1,0 -20.5,0M1608.19,656.2a10.25,10.25 0 1,0 20.5,0a10.25,10.25 0 1,0 -20.5,0M1611.95,692.3a10.25,10.25 0 1,0 20.5,0a10.25,10.25 0 1,0 -20.5,0M1615.71,668.2a10.25,10.25 0 1,0 20.5,0a10.25,10.25 0 1,0 -20.5,0M1619.47,661.2a10.25,10.25 0 1,0 20.5,0a10.25,10.25 0 1,0 -20.5,0M1623.23,704.4a10.25,10.25 0 1,0 20.5,0a10.25,10.25 0 1,0 -20.5,0M1626.99,729.6a10.25,10.25 0 1,0 20.5,0a10.25,10.25 0 1,0 -20.5,0M1630.75,669.2a10.25,10.25 0 1,0 20.5,0a10.25,10.25 0 1,0 -20.5,0M1634.51,708.1a10.25,10.25 0 1,0 20.5,0a10.25,10.25 0 1,0 -20.5,0M1638.26,681.6a10.25,10.25 0 1,0 20.5,0a10.25,10.25 0 1,0 -20.5,0M1642.02,723.2a10.25,10.25 0 1,0 20.5,0a10.25,10.25 0 1,0 -20.5,0M1645.78,698.0a10.25,10.25 0 1,0 20.5,0a10.25,10.25 0 1,0 -20.5,0M1649.54,668.0a10.25,10.25 0 1,0 20.5,0a10.25,10.25 0 1,0 -20.5,0M1653.30,663.2a10.25,10.25 0 1,0 20.5,0a10.25,10.25 0 1,0 -20.5,0M1657.06,644.6a10.25,10.25 0 1,0 20.5,0a10.25,10.25 0 1,0 -20.5,0M1660.82,688.0a10.25,10.25 0 1,0 20.5,0a10.25,10.25 0 1,0 -20.5,0M1664.58,678.8a10.25,10.25 0 1,0 20.5,0a10.25,10.25 0 1,0 -20.5,0M1668.34,658.5a10.25,10.25 0 1,0 20.5,0a10.25,10.25 0 1,0 -20.5,0M1672.09,676.6a10.25,10.25 0 1,0 20.5,0a10.25,10.25 0 1,0 -20.5,0M1675.85,672.8a10.25,10.25 0 1,0 20.5,0a10.25,10.25 0 1,0 -20.5,0M1679.61,716.6a10.25,10.25 0 1,0 20.5,0a10.25,10.25 0 1,0 -20.5,0M1683.37,655.4a10.25,10.25 0 1,0 20.5,0a10.25,10.25 0 1,0 -20.5,0M1687.13,737.9a10.25,10.25 0 1,0 20.5,0a10.25,10.25 0 1,0 -20.5,0M1690.89,687.7a10.25,10.25 0 1,0 20.5,0a10.25,10.25 0 1,0 -20.5,0M1694.65,698.3a10.25,10.25 0 1,0 20.5,0a10.25,10.25 0 1,0 -20.5,0M1698.41,684.4a10.25,10.25 0 1,0 20.5,0a10.25,10.25 0 1,0 -20.5,0M1702.16,719.5a10.25,10.25 0 1,0 20.5,0a10.25,10.25 0 1,0 -20.5,0M1705.92,717.2a10.25,10.25 0 1,0 20.5,0a10.25,10.25 0 1,0 -20.5,0M1709.68,690.0a10.25,10.25 0 1,0 20.5,0a10.25,10.25 0 1,0 -20.5,0M1713.44,681.4a10.25,10.25 0 1,0 20.5,0a10.25,10.25 0 1,0 -20.5,0M1717.20,704.2a10.25,10.25 0 1,0 20.5,0a10.25,10.25 0 1,0 -20.5,0M1720.96,716.6a10.25,10.25 0 1,0 20.5,0a10.25,10.25 0 1,0 -20.5,0M1724.72,670.2a10.25,10.25 0 1,0 20.5,0a10.25,10.25 0 1,0 -20.5,0M1728.48,543.0a10.25,10.25 0 1,0 20.5,0a10.25,10.25 0 1,0 -20.5,0M1732.23,644.3a10.25,10.25 0 1,0 20.5,0a10.25,10.25 0 1,0 -20.5,0M1735.99,616.2a10.25,10.25 0 1,0 20.5,0a10.25,10.25 0 1,0 -20.5,0M1739.75,613.3a10.25,10.25 0 1,0 20.5,0a10.25,10.25 0 1,0 -20.5,0M1743.51,633.5a10.25,10.25 0 1,0 20.5,0a10.25,10.25 0 1,0 -20.5,0M1747.27,697.0a10.25,10.25 0 1,0 20.5,0a10.25,10.25 0 1,0 -20.5,0M1751.03,706.7a10.25,10.25 0 1,0 20.5,0a10.25,10.25 0 1,0 -20.5,0M1754.79,734.4a10.25,10.25 0 1,0 20.5,0a10.25,10.25 0 1,0 -20.5,0M1758.55,727.7a10.25,10.25 0 1,0 20.5,0a10.25,10.25 0 1,0 -20.5,0M1762.31,678.4a10.25,10.25 0 1,0 20.5,0a10.25,10.25 0 1,0 -20.5,0M1766.06,677.5a10.25,10.25 0 1,0 20.5,0a10.25,10.25 0 1,0 -20.5,0M1769.82,686.7a10.25,10.25 0 1,0 20.5,0a10.25,10.25 0 1,0 -20.5,0M1773.58,684.5a10.25,10.25 0 1,0 20.5,0a10.25,10.25 0 1,0 -20.5,0M1777.34,728.2a10.25,10.25 0 1,0 20.5,0a10.25,10.25 0 1,0 -20.5,0M1781.10,741.2a10.25,10.25 0 1,0 20.5,0a10.25,10.25 0 1,0 -20.5,0M1784.86,745.2a10.25,10.25 0 1,0 20.5,0a10.25,10.25 0 1,0 -20.5,0M1788.62,698.7a10.25,10.25 0 1,0 20.5,0a10.25,10.25 0 1,0 -20.5,0M1792.38,744.3a10.25,10.25 0 1,0 20.5,0a10.25,10.25 0 1,0 -20.5,0M1796.13,706.6a10.25,10.25 0 1,0 20.5,0a10.25,10.25 0 1,0 -20.5,0M1799.89,715.9a10.25,10.25 0 1,0 20.5,0a10.25,10.25 0 1,0 -20.5,0M1803.65,737.9a10.25,10.25 0 1,0 20.5,0a10.25,10.25 0 1,0 -20.5,0M1807.41,697.0a10.25,10.25 0 1,0 20.5,0a10.25,10.25 0 1,0 -20.5,0M1811.17,699.6a10.25,10.25 0 1,0 20.5,0a10.25,10.25 0 1,0 -20.5,0M1814.93,747.8a10.25,10.25 0 1,0 20.5,0a10.25,10.25 0 1,0 -20.5,0M1818.69,715.9a10.25,10.25 0 1,0 20.5,0a10.25,10.25 0 1,0 -20.5,0M1822.45,721.7a10.25,10.25 0 1,0 20.5,0a10.25,10.25 0 1,0 -20.5,0M1826.20,607.0a10.25,10.25 0 1,0 20.5,0a10.25,10.25 0 1,0 -20.5,0M1829.96,699.6a10.25,10.25 0 1,0 20.5,0a10.25,10.25 0 1,0 -20.5,0M1833.72,689.4a10.25,10.25 0 1,0 20.5,0a10.25,10.25 0 1,0 -20.5,0M1837.48,725.3a10.25,10.25 0 1,0 20.5,0a10.25,10.25 0 1,0 -20.5,0M1841.24,747.9a10.25,10.25 0 1,0 20.5,0a10.25,10.25 0 1,0 -20.5,0M1845.00,767.8a10.25,10.25 0 1,0 20.5,0a10.25,10.25 0 1,0 -20.5,0M1848.76,775.5a10.25,10.25 0 1,0 20.5,0a10.25,10.25 0 1,0 -20.5,0M1852.52,806.9a10.25,10.25 0 1,0 20.5,0a10.25,10.25 0 1,0 -20.5,0M1856.28,823.5a10.25,10.25 0 1,0 20.5,0a10.25,10.25 0 1,0 -20.5,0M1860.03,806.1a10.25,10.25 0 1,0 20.5,0a10.25,10.25 0 1,0 -20.5,0M1863.79,814.0a10.25,10.25 0 1,0 20.5,0a10.25,10.25 0 1,0 -20.5,0M1867.55,801.9a10.25,10.25 0 1,0 20.5,0a10.25,10.25 0 1,0 -20.5,0M1871.31,809.9a10.25,10.25 0 1,0 20.5,0a10.25,10.25 0 1,0 -20.5,0M1875.07,825.6a10.25,10.25 0 1,0 20.5,0a10.25,10.25 0 1,0 -20.5,0M1878.83,809.7a10.25,10.25 0 1,0 20.5,0a10.25,10.25 0 1,0 -20.5,0M1882.59,837.9a10.25,10.25 0 1,0 20.5,0a10.25,10.25 0 1,0 -20.5,0M1886.35,841.0a10.25,10.25 0 1,0 20.5,0a10.25,10.25 0 1,0 -20.5,0M1890.10,817.0a10.25,10.25 0 1,0 20.5,0a10.25,10.25 0 1,0 -20.5,0M1893.86,844.1a10.25,10.25 0 1,0 20.5,0a10.25,10.25 0 1,0 -20.5,0M1897.62,826.0a10.25,10.25 0 1,0 20.5,0a10.25,10.25 0 1,0 -20.5,0M1901.38,838.5a10.25,10.25 0 1,0 20.5,0a10.25,10.25 0 1,0 -20.5,0M1905.14,837.9a10.25,10.25 0 1,0 20.5,0a10.25,10.25 0 1,0 -20.5,0M1908.90,823.8a10.25,10.25 0 1,0 20.5,0a10.25,10.25 0 1,0 -20.5,0M1912.66,829.5a10.25,10.25 0 1,0 20.5,0a10.25,10.25 0 1,0 -20.5,0M1916.42,804.9a10.25,10.25 0 1,0 20.5,0a10.25,10.25 0 1,0 -20.5,0M1920.17,786.4a10.25,10.25 0 1,0 20.5,0a10.25,10.25 0 1,0 -20.5,0M1923.93,744.5a10.25,10.25 0 1,0 20.5,0a10.25,10.25 0 1,0 -20.5,0M1927.69,641.0a10.25,10.25 0 1,0 20.5,0a10.25,10.25 0 1,0 -20.5,0M1931.45,748.0a10.25,10.25 0 1,0 20.5,0a10.25,10.25 0 1,0 -20.5,0M1935.21,763.1a10.25,10.25 0 1,0 20.5,0a10.25,10.25 0 1,0 -20.5,0M1938.97,798.2a10.25,10.25 0 1,0 20.5,0a10.25,10.25 0 1,0 -20.5,0M1942.73,818.3a10.25,10.25 0 1,0 20.5,0a10.25,10.25 0 1,0 -20.5,0M1946.49,863.3a10.25,10.25 0 1,0 20.5,0a10.25,10.25 0 1,0 -20.5,0M1950.25,863.9a10.25,10.25 0 1,0 20.5,0a10.25,10.25 0 1,0 -20.5,0M1954.00,890.5a10.25,10.25 0 1,0 20.5,0a10.25,10.25 0 1,0 -20.5,0M1957.76,896.4a10.25,10.25 0 1,0 20.5,0a10.25,10.25 0 1,0 -20.5,0M1961.52,898.4a10.25,10.25 0 1,0 20.5,0a10.25,10.25 0 1,0 -20.5,0M1965.28,885.9a10.25,10.25 0 1,0 20.5,0a10.25,10.25 0 1,0 -20.5,0M1969.04,918.3a10.25,10.25 0 1,0 20.5,0a10.25,10.25 0 1,0 -20.5,0M1972.80,918.0a10.25,10.25 0 1,0 20.5,0a10.25,10.25 0 1,0 -20.5,0M1976.56,892.3a10.25,10.25 0 1,0 20.5,0a10.25,10.25 0 1,0 -20.5,0M1980.32,929.6a10.25,10.25 0 1,0 20.5,0a10.25,10.25 0 1,0 -20.5,0M1984.07,915.5a10.25,10.25 0 1,0 20.5,0a10.25,10.25 0 1,0 -20.5,0M1987.83,884.8a10.25,10.25 0 1,0 20.5,0a10.25,10.25 0 1,0 -20.5,0M1991.59,928.8a10.25,10.25 0 1,0 20.5,0a10.25,10.25 0 1,0 -20.5,0M1995.35,884.2a10.25,10.25 0 1,0 20.5,0a10.25,10.25 0 1,0 -20.5,0M1999.11,894.3a10.25,10.25 0 1,0 20.5,0a10.25,10.25 0 1,0 -20.5,0M2002.87,915.9a10.25,10.25 0 1,0 20.5,0a10.25,10.25 0 1,0 -20.5,0M2006.63,908.5a10.25,10.25 0 1,0 20.5,0a10.25,10.25 0 1,0 -20.5,0M2010.39,905.6a10.25,10.25 0 1,0 20.5,0a10.25,10.25 0 1,0 -20.5,0M2014.14,910.5a10.25,10.25 0 1,0 20.5,0a10.25,10.25 0 1,0 -20.5,0M2017.90,899.0a10.25,10.25 0 1,0 20.5,0a10.25,10.25 0 1,0 -20.5,0M2021.66,889.9a10.25,10.25 0 1,0 20.5,0a10.25,10.25 0 1,0 -20.5,0M2025.42,881.3a10.25,10.25 0 1,0 20.5,0a10.25,10.25 0 1,0 -20.5,0M2029.18,874.2a10.25,10.25 0 1,0 20.5,0a10.25,10.25 0 1,0 -20.5,0M2032.94,904.3a10.25,10.25 0 1,0 20.5,0a10.25,10.25 0 1,0 -20.5,0M2036.70,897.1a10.25,10.25 0 1,0 20.5,0a10.25,10.25 0 1,0 -20.5,0M2040.46,868.9a10.25,10.25 0 1,0 20.5,0a10.25,10.25 0 1,0 -20.5,0M2044.22,876.0a10.25,10.25 0 1,0 20.5,0a10.25,10.25 0 1,0 -20.5,0M2047.97,825.9a10.25,10.25 0 1,0 20.5,0a10.25,10.25 0 1,0 -20.5,0M2051.73,808.5a10.25,10.25 0 1,0 20.5,0a10.25,10.25 0 1,0 -20.5,0M2055.49,820.0a10.25,10.25 0 1,0 20.5,0a10.25,10.25 0 1,0 -20.5,0M2059.25,872.4a10.25,10.25 0 1,0 20.5,0a10.25,10.25 0 1,0 -20.5,0M2063.01,779.7a10.25,10.25 0 1,0 20.5,0a10.25,10.25 0 1,0 -20.5,0M2066.77,829.1a10.25,10.25 0 1,0 20.5,0a10.25,10.25 0 1,0 -20.5,0M2070.53,799.4a10.25,10.25 0 1,0 20.5,0a10.25,10.25 0 1,0 -20.5,0M2074.29,855.4a10.25,10.25 0 1,0 20.5,0a10.25,10.25 0 1,0 -20.5,0M2078.04,808.3a10.25,10.25 0 1,0 20.5,0a10.25,10.25 0 1,0 -20.5,0M2081.80,804.6a10.25,10.25 0 1,0 20.5,0a10.25,10.25 0 1,0 -20.5,0M2085.56,810.9a10.25,10.25 0 1,0 20.5,0a10.25,10.25 0 1,0 -20.5,0M2089.32,824.7a10.25,10.25 0 1,0 20.5,0a10.25,10.25 0 1,0 -20.5,0M2093.08,854.9a10.25,10.25 0 1,0 20.5,0a10.25,10.25 0 1,0 -20.5,0M2096.84,814.4a10.25,10.25 0 1,0 20.5,0a10.25,10.25 0 1,0 -20.5,0M2100.60,874.4a10.25,10.25 0 1,0 20.5,0a10.25,10.25 0 1,0 -20.5,0M2104.36,799.2a10.25,10.25 0 1,0 20.5,0a10.25,10.25 0 1,0 -20.5,0M2108.11,822.3a10.25,10.25 0 1,0 20.5,0a10.25,10.25 0 1,0 -20.5,0M2111.87,813.5a10.25,10.25 0 1,0 20.5,0a10.25,10.25 0 1,0 -20.5,0M2115.63,828.1a10.25,10.25 0 1,0 20.5,0a10.25,10.25 0 1,0 -20.5,0M2119.39,891.7a10.25,10.25 0 1,0 20.5,0a10.25,10.25 0 1,0 -20.5,0M2123.15,892.8a10.25,10.25 0 1,0 20.5,0a10.25,10.25 0 1,0 -20.5,0" fill="none" stroke="#EDB120" stroke-width="11.5"/>
<path d="M257.8,460.7 L265.3,347.2 L272.8,453.6 L280.4,348.1 L286.0,507.0 L287.9,477.4 L295.4,357.4 L306.7,463.4 L314.2,355.9 L325.5,453.2 L333.0,331.5 L340.5,467.9 L351.8,357.1 L359.3,452.8 L366.0,420.0 L372.0,340.0 L380.0,290.0 L390.0,240.0 L400.0,205.0 L408.0,183.0 L411.0,461.0 L418.5,293.8 L429.8,472.0 L437.3,311.6 L444.8,464.4 L452.3,292.8 L459.9,469.4 L471.1,284.1 L484.0,337.0 L493.0,315.0 L505.0,290.0 L514.0,270.0 L525.0,240.0 L529.0,548.1 L540.3,376.1 L547.8,556.6 L555.3,387.5 L566.6,545.6 L577.9,361.1 L589.1,549.0 L596.7,386.0 L607.9,530.9 L619.2,384.6 L630.5,541.4 L638.0,359.6 L643.0,437.0 L650.0,380.0 L659.0,329.0 L663.0,484.3 L674.3,352.7 L685.6,475.8 L693.1,341.7 L704.3,495.5 L711.9,369.4 L723.1,493.9 L734.4,362.4 L740.0,396.0 L748.0,334.0 L757.0,300.0 L765.0,275.0 L776.0,253.0 L786.0,232.0 L789.0,572.9 L800.3,384.2 L811.6,548.9 L819.1,362.9 L826.6,567.5 L834.1,351.8 L845.4,550.5 L856.7,381.6 L867.9,550.9 L879.2,345.3 L890.5,571.8 L901.8,353.3 L913.0,563.7 L924.3,341.9 L931.8,536.5 L939.4,374.7 L946.9,533.3 L954.4,373.3 L958.0,464.0 L967.0,400.0 L972.0,370.0 L978.0,330.0 L985.0,300.0 L992.0,275.0 L1000.0,258.0 L1005.0,253.0 L1009.0,563.1 L1020.3,399.2 L1031.6,602.6 L1039.1,406.1 L1050.3,584.0 L1061.6,422.2 L1072.9,574.9 L1080.4,383.7 L1091.7,584.0 L1105.0,470.0 L1112.0,440.0 L1120.0,400.0 L1128.0,370.0 L1136.0,345.0 L1144.0,328.0 L1150.0,322.0 L1154.0,601.0 L1161.5,466.4 L1169.0,603.4 L1180.3,447.3 L1187.8,621.6 L1199.1,467.2 L1210.4,632.0 L1221.7,458.5 L1229.2,634.2 L1240.5,461.0 L1251.7,611.8 L1259.2,453.2 L1270.5,633.0 L1278.0,465.1 L1285.6,656.7 L1296.8,482.9 L1304.4,655.0 L1315.6,451.5 L1323.1,658.4 L1334.4,473.3 L1341.9,650.0 L1349.5,474.9 L1354.0,520.0 L1365.0,470.0 L1375.0,426.0 L1385.0,400.0 L1395.0,375.0 L1404.0,362.0 L1408.0,737.4 L1415.5,509.4 L1426.8,742.4 L1434.3,538.8 L1445.6,723.8 L1453.1,500.5 L1462.0,488.0 L1470.0,460.0 L1480.0,440.0 L1490.0,420.0 L1503.0,398.0 L1507.0,801.4 L1514.5,561.6 L1525.8,800.1 L1537.1,547.4 L1548.3,780.2 L1555.9,586.9 L1563.4,794.1 L1574.7,565.4 L1582.2,801.8 L1593.5,555.8 L1601.0,821.0 L1608.5,549.9 L1616.0,801.7 L1623.5,575.7 L1634.8,780.5 L1646.1,574.1 L1653.6,815.1 L1661.1,545.4 L1668.6,784.0 L1679.9,555.5 L1687.4,809.0 L1698.7,563.6 L1710.0,784.3 L1717.5,598.0 L1725.0,804.4 L1732.5,575.7 L1740.0,820.6 L1747.6,597.6 L1757.5,1310.0 L1761.0,600.0 L1764.0,530.0 L1772.0,505.0 L1784.0,483.0 L1788.0,741.2 L1795.5,626.3 L1806.8,740.3 L1818.1,624.4 L1825.6,757.6 L1827.3,1443.0 L1836.9,622.7 L1846.1,1543.0 L1848.1,755.4 L1856.0,620.0 L1861.0,603.0 L1868.0,560.0 L1874.0,533.0 L1885.0,500.0 L1897.0,477.0 L1901.0,820.0 L1908.5,620.4 L1916.0,823.3 L1923.6,650.4 L1934.8,823.7 L1937.9,1555.0 L1942.3,634.0 L1953.6,826.4 L1964.9,624.2 L1972.4,835.0 L1979.9,647.1 L1991.2,799.1 L1998.7,636.0 L2006.2,829.7 L2013.8,638.8 L2021.3,826.9 L2030.0,931.7 L2041.3,746.3 L2048.8,940.0 L2060.1,728.3 L2067.6,946.1 L2075.1,750.3 L2086.4,928.8 L2093.9,739.2 L2105.2,912.8 L2116.5,734.4 L2121.0,737.0 L2127.0,690.0 L2133.4,647.0" fill="none" stroke="#7E2F8E" stroke-width="7.75" stroke-dasharray="43 14.5 12 15"/></g>
<text x="254.00" y="1712" text-anchor="middle" class="t">1500</text>
<text x="629.88" y="1712" text-anchor="middle" class="t">1600</text>
<text x="1005.76" y="1712" text-anchor="middle" class="t">1700</text>
<text x="1381.64" y="1712" text-anchor="middle" class="t">1800</text>
<text x="1757.52" y="1712" text-anchor="middle" class="t">1900</text>
<text x="2133.40" y="1712" text-anchor="middle" class="t">2000</text>
<text x="222.5" y="1639.50" text-anchor="end" class="t">2</text>
<text x="222.5" y="1247.75" text-anchor="end" class="t">2.5</text>
<text x="222.5" y="856.00" text-anchor="end" class="t">3</text>
<text x="222.5" y="464.25" text-anchor="end" class="t">3.5</text>
<text x="222.5" y="72.50" text-anchor="end" class="t">4</text>
<text x="1180.6" y="1814.5" text-anchor="middle" class="l">Number of cycles</text>
<text transform="translate(85.4,827) rotate(-90)" text-anchor="middle" class="l">Capacity(Wh)</text>
<rect x="1573" y="60" width="540" height="361" fill="#fff" stroke="#262626" stroke-width="3.8"/>
<path d="M1594,111.8H1804" stroke="#0072BD" stroke-width="11.5"/>
<path d="M1594,197.5H1804" stroke="#D95319" stroke-width="11.5"/>
<path d="M1681,187L1717,187L1699,217.6Z" fill="#D95319"/>
<path d="M1594,283.2H1804" stroke="#EDB120" stroke-width="11.5"/>
<circle cx="1699" cy="283.3" r="15.8" fill="#EDB120"/>
<path d="M1594,368.7H1804" stroke="#7E2F8E" stroke-width="7.75" stroke-dasharray="43 14.5 12 15"/>
<text transform="translate(1818.4,137.20) scale(0.975,1)" class="g">NN</text>
<text transform="translate(1818.4,223.00) scale(0.975,1)" class="g">SVM</text>
<text transform="translate(1818.4,308.90) scale(0.975,1)" class="g">LSTM</text>
<text transform="translate(1818.4,395.20) scale(0.975,1)" class="g">Real data</text>
</svg></body></html>
